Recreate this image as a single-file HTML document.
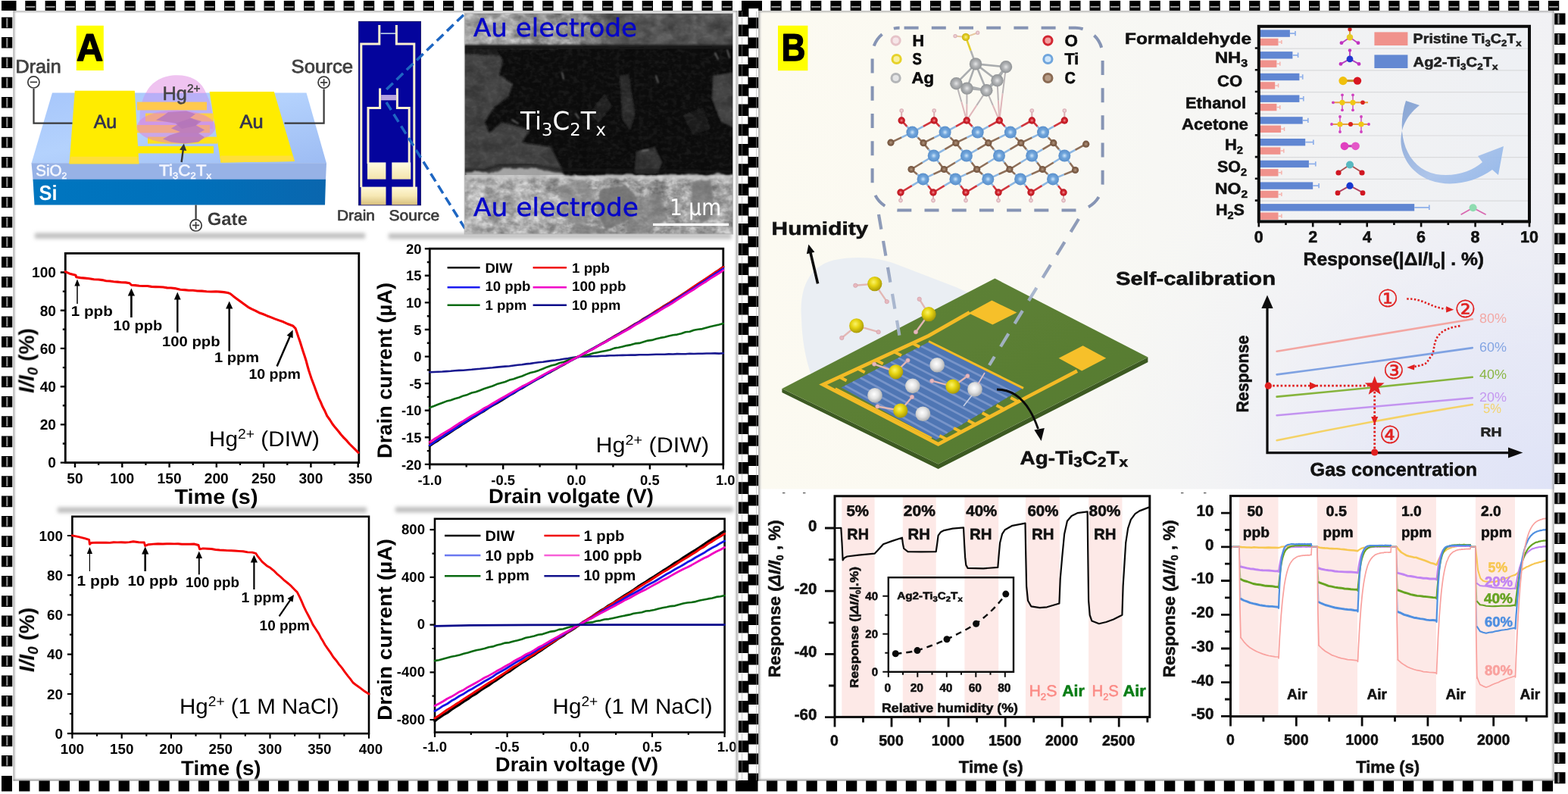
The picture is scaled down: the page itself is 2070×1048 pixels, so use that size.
<!DOCTYPE html>
<html lang="en">
<head>
<meta charset="utf-8">
<title>Ti3C2Tx MXene sensors - figure</title>
<style>
html,body{margin:0;padding:0;background:#fff;}
body{width:2070px;height:1048px;overflow:hidden;}
svg{display:block;}
</style>
</head>
<body>
<svg width="2070" height="1048" viewBox="0 0 2070 1048" font-family='"Liberation Sans", sans-serif' font-weight="bold" text-rendering="geometricPrecision">
<defs><linearGradient id="bgB" x1="0" y1="0" x2="1" y2="0"><stop offset="0" stop-color="#fcfaf1"/><stop offset=".3" stop-color="#faf9f2"/><stop offset=".5" stop-color="#f7f7f4"/><stop offset=".7" stop-color="#f5f5f5"/><stop offset="1" stop-color="#f1f1f4"/></linearGradient><radialGradient id="bgB2" cx="1" cy="1" r="1"><stop offset="0" stop-color="#dfe3f7"/><stop offset=".35" stop-color="#e3e6f7" stop-opacity=".75"/><stop offset=".7" stop-color="#e8eaf6" stop-opacity=".25"/><stop offset="1" stop-color="#eef0f6" stop-opacity="0"/></radialGradient><linearGradient id="edgeL" x1="0" y1="0" x2="1" y2="0"><stop offset="0" stop-color="#777"/><stop offset="1" stop-color="#fff" stop-opacity="0"/></linearGradient><linearGradient id="edgeR" x1="1" y1="0" x2="0" y2="0"><stop offset="0" stop-color="#777"/><stop offset="1" stop-color="#fff" stop-opacity="0"/></linearGradient><linearGradient id="edgeT" x1="0" y1="0" x2="0" y2="1"><stop offset="0" stop-color="#777"/><stop offset="1" stop-color="#fff" stop-opacity="0"/></linearGradient><linearGradient id="edgeB" x1="0" y1="1" x2="0" y2="0"><stop offset="0" stop-color="#666"/><stop offset="1" stop-color="#fff" stop-opacity="0"/></linearGradient></defs>
<rect x="17.5" y="14.5" width="956" height="1016" fill="#fff" />
<rect x="1001.5" y="14.5" width="1050" height="1016" fill="#fff" />
<rect x="1001.5" y="14.5" width="1050" height="631" fill="url(#bgB)" />
<rect x="1400" y="100" width="651.5" height="545.5" fill="url(#bgB2)" />
<g id="a_device">
<defs><linearGradient id="sio2top" x1="0" y1="0" x2="1" y2="1"><stop offset="0" stop-color="#a6c6fb"/><stop offset=".45" stop-color="#b4d2fd"/><stop offset="1" stop-color="#9dbcf3"/></linearGradient><linearGradient id="siface" x1="0" y1="0" x2="1" y2="0"><stop offset="0" stop-color="#0076c0"/><stop offset=".55" stop-color="#0070ba"/><stop offset="1" stop-color="#0a66ae"/></linearGradient><filter id="blur2" x="-5%" y="-200%" width="110%" height="500%"><feGaussianBlur stdDeviation="2.6"/></filter><filter id="blur1"><feGaussianBlur stdDeviation=".6"/></filter><clipPath id="domeclip"><rect x="170" y="90" width="130" height="33"/></clipPath></defs>
<rect x="100.8" y="33.8" width="36" height="59.2" fill="#ffff00" />
<text x="118.7" y="80.3" font-size="50.5" text-anchor="middle" textLength="35.2" lengthAdjust="spacingAndGlyphs" stroke="#000" stroke-width="1.5" stroke-linejoin="round">A</text>
<polygon points="69,122.6 404.5,122.6 431,215.5 41.5,215.5" fill="url(#sio2top)" />
<polygon points="41.5,215.2 431,215.2 430,237.2 43.5,237.2" fill="#97b2e6" />
<polygon points="43.5,236.8 430,236.8 429,270.6 45.5,270.6" fill="url(#siface)" />
<polygon points="98.8,119.8 177.8,119.8 183.4,216.2 91.5,216.2" fill="#ffec00" />
<polygon points="92.2,206.8 182.9,206.8 183.4,216.2 91.5,216.2" fill="#ffdf3a" />
<polygon points="276.6,121 361.8,121 389,213 291.5,214.5" fill="#ffec00" />
<polygon points="290.2,205.5 386.8,205.5 389,213 291.5,214.5" fill="#ffdf3a" />
<path d="M192.5 123 C200 107 216 99.3 234 99.3 C252 99.3 266 107 272 123Z" fill="#efc3f0"/>
<path d="M192.5 122.6 C186 134 183 150 185 170 L281 170 Q283.5 146 272 122.6Z" fill="#c58cf2" opacity=".45"/>
<rect x="181" y="134.6" width="92" height="10.8" fill="#ffc94e" />
<rect x="192" y="149.6" width="90" height="10.8" fill="#ffcf48" />
<rect x="181" y="165" width="96" height="10.4" fill="#ffd040" />
<rect x="195" y="180.6" width="92" height="9" fill="#ffe21c" />
<rect x="181" y="193" width="101" height="9.4" fill="#ffea00" />
<ellipse cx="232.6" cy="167.4" rx="51.6" ry="21.6" fill="#e27fd6" opacity=".5" stroke="#e07ad0" stroke-width="1" stroke-opacity=".6"/>
<polygon points="222,148 246,146.4 258,150.5 251,155.5 266,160 259,165.5 270,171.5 262,176 270,181 262,187.5 244,189.6 226,187.4 215,183.5 224,178.5 238,174 226,169.5 236,163.5 206,158.6 216,152.4" fill="#bb7cbf" opacity=".92"/>
<polygon points="232,163 252,156 262,160.5 258,166 240,170" fill="#b274b8" opacity=".7"/>
<text x="214.5" y="132" font-size="25.5" fill="#454545" font-weight="normal" textLength="50" lengthAdjust="spacingAndGlyphs" stroke="#454545" stroke-width=".5">Hg<tspan font-size="15.5" baseline-shift="10">2+</tspan></text>
<text x="139" y="169.4" font-size="25" fill="#33334e" font-weight="normal" text-anchor="middle" textLength="30.5" lengthAdjust="spacingAndGlyphs" stroke="#33334e" stroke-width=".7">Au</text>
<text x="332" y="169.4" font-size="25" fill="#33334e" font-weight="normal" text-anchor="middle" textLength="31" lengthAdjust="spacingAndGlyphs" stroke="#33334e" stroke-width=".7">Au</text>
<line x1="239.6" y1="214" x2="241.8" y2="197.4" stroke="#333" stroke-width="2.4" /><polygon points="242.8,189.5 246.2,199 237.1,197.8" fill="#333" />
<text x="210" y="232.4" font-size="21" fill="#f2f5ff" font-weight="normal" textLength="69" lengthAdjust="spacingAndGlyphs" stroke="#f2f5ff" stroke-width=".6">Ti<tspan font-size="12" baseline-shift="-3.5">3</tspan>C<tspan font-size="12" baseline-shift="-3.5">2</tspan>T<tspan font-size="12" baseline-shift="-3.5">x</tspan></text>
<text x="47.2" y="232" font-size="20.5" fill="#f4f7ff" font-weight="normal" textLength="41" lengthAdjust="spacingAndGlyphs" stroke="#f4f7ff" stroke-width=".5">SiO<tspan font-size="12" baseline-shift="-3.5">2</tspan></text>
<text x="51.5" y="264" font-size="27.5" fill="#fff" textLength="24" lengthAdjust="spacingAndGlyphs">Si</text>
<path d="M44.5 117V162.6H95.5M427.6 117.5V162.6H375.5M258.6 270.5V289" fill="none" stroke="#3a3a3a" stroke-width="2.2"/>
<circle cx="44.4" cy="108.4" r="7.6" fill="#fff" stroke="#3a3a3a" stroke-width="1.7"/>
<path d="M39.8 108.4h9.2" stroke="#3a3a3a" stroke-width="1.7" fill="none"/>
<circle cx="427.6" cy="108.8" r="7.6" fill="#fff" stroke="#3a3a3a" stroke-width="1.7"/>
<path d="M423.0 108.8h9.2M427.6 104.2v9.2" stroke="#3a3a3a" stroke-width="1.7" fill="none"/>
<circle cx="258.6" cy="297.4" r="7.6" fill="#fff" stroke="#3a3a3a" stroke-width="1.7"/>
<path d="M254.00000000000003 297.4h9.2M258.6 292.79999999999995v9.2" stroke="#3a3a3a" stroke-width="1.7" fill="none"/>
<text x="20.6" y="95.6" font-size="24.5" fill="#404040" font-weight="normal" textLength="60" lengthAdjust="spacingAndGlyphs" stroke="#404040" stroke-width=".8">Drain</text>
<text x="384.6" y="95.6" font-size="24.5" fill="#404040" font-weight="normal" textLength="81.5" lengthAdjust="spacingAndGlyphs" stroke="#404040" stroke-width=".8">Source</text>
<text x="273.8" y="296.8" font-size="23.5" fill="#3a3a3a" textLength="53" lengthAdjust="spacingAndGlyphs">Gate</text>
<rect x="46" y="307.6" width="436" height="7.2" fill="#bdbdbd" filter="url(#blur2)"/>
<rect x="513" y="308.1" width="453" height="7.2" fill="#bdbdbd" filter="url(#blur2)"/>
<rect x="76" y="669.6" width="408" height="7.2" fill="#bdbdbd" filter="url(#blur2)"/>
<rect x="522" y="669.1" width="446" height="7.2" fill="#bdbdbd" filter="url(#blur2)"/>
<defs><linearGradient id="padg" x1="0" y1="0" x2="0" y2="1"><stop offset="0" stop-color="#fff8d8"/><stop offset=".5" stop-color="#f6e8b4"/><stop offset="1" stop-color="#d8bf7c"/></linearGradient><linearGradient id="padg2" x1="0" y1="0" x2="0" y2="1"><stop offset="0" stop-color="#fffbe2"/><stop offset="1" stop-color="#f3e4ac"/></linearGradient></defs>
<rect x="473.6" y="28.4" width="81.8" height="242.4" fill="#04049c" stroke="#141466" stroke-width="1"/>
<path d="M476.8 247V58H500.8V33M523.4 33V58H546.8V247" fill="none" stroke="#fbf0cf" stroke-width="3" filter="url(#blur1)"/>
<path d="M486 216V142.4H501.6V116.6M524.4 116.6V142.4H540.2V216" fill="none" stroke="#fbf0cf" stroke-width="3" filter="url(#blur1)"/>
<path d="M502.6 44.2H522" stroke="#b9cfe6" stroke-width="1.7" fill="none"/>
<rect x="503.2" y="125.2" width="20" height="7.2" fill="#a08ad6" />
<path d="M503.2 126.6H523M503.2 129H523M503.2 131.2H523" stroke="#d9c6f0" stroke-width=".9" fill="none"/>
<rect x="485" y="214.4" width="24.4" height="22.2" fill="url(#padg2)" />
<rect x="517.3" y="214.4" width="25" height="22.2" fill="url(#padg2)" />
<rect x="476.5" y="246.6" width="33" height="23.8" fill="url(#padg)" />
<rect x="517.3" y="246.6" width="33.6" height="23.8" fill="url(#padg)" />
<text x="445" y="291" font-size="19.6" fill="#3c3c3c" font-weight="normal" textLength="50" lengthAdjust="spacingAndGlyphs" stroke="#3c3c3c" stroke-width=".7">Drain</text>
<text x="513.6" y="291" font-size="19.6" fill="#3c3c3c" font-weight="normal" textLength="66.6" lengthAdjust="spacingAndGlyphs" stroke="#3c3c3c" stroke-width=".7">Source</text>
<path d="M510.2 118L613.8 17.9M510 135L613.8 301.6" fill="none" stroke="#1e66c2" stroke-width="3.5" stroke-dasharray="12 6.5"/>
</g>
<g id="a_sem">
<defs><clipPath id="semclip"><rect x="613.2" y="17.4" width="354.4" height="291.6"/></clipPath><linearGradient id="semtop" x1="0" y1="0" x2="1" y2="0"><stop offset="0" stop-color="#acacac"/><stop offset=".25" stop-color="#9a9a9a"/><stop offset="0.44" stop-color="#8a8a8a"/><stop offset=".53" stop-color="#5e5e5e"/><stop offset="1" stop-color="#555"/></linearGradient><linearGradient id="sembot" x1="0" y1="0" x2="1" y2="0"><stop offset="0" stop-color="#b4b4b4"/><stop offset=".35" stop-color="#a6a6a6"/><stop offset=".55" stop-color="#8e8e8e"/><stop offset=".8" stop-color="#9c9c9c"/><stop offset="1" stop-color="#a4a4a4"/></linearGradient><linearGradient id="semfade" x1="0" y1="0" x2="1" y2="0"><stop offset="0" stop-color="#fff"/><stop offset=".42" stop-color="#fff"/><stop offset=".55" stop-color="#fff" stop-opacity=".2"/><stop offset="1" stop-color="#fff" stop-opacity=".2"/></linearGradient><filter id="grainA" x="0" y="0" width="100%" height="100%"><feTurbulence type="fractalNoise" baseFrequency=".09 .12" numOctaves="3" seed="7" result="n"/><feColorMatrix in="n" type="matrix" values="0 0 0 0 1  0 0 0 0 1  0 0 0 0 1  1.6 1.2 0 0 -1.15"/><feComposite in2="SourceGraphic" operator="in"/></filter><filter id="grainB" x="0" y="0" width="100%" height="100%"><feTurbulence type="fractalNoise" baseFrequency=".05 .07" numOctaves="3" seed="23" result="n"/><feColorMatrix in="n" type="matrix" values="0 0 0 0 0  0 0 0 0 0  0 0 0 0 0  1.8 1.4 0 0 -1.25"/><feComposite in2="SourceGraphic" operator="in"/></filter><filter id="grainC" x="0" y="0" width="100%" height="100%"><feTurbulence type="fractalNoise" baseFrequency=".16 .2" numOctaves="2" seed="3" result="n"/><feColorMatrix in="n" type="matrix" values="0 0 0 0 1  0 0 0 0 1  0 0 0 0 1  2.4 1.6 0 0 -1.7"/><feComposite in2="SourceGraphic" operator="in"/></filter><filter id="semblur"><feGaussianBlur stdDeviation="1.1"/></filter><filter id="rough" x="-5%" y="-50%" width="110%" height="200%"><feTurbulence type="fractalNoise" baseFrequency=".08" numOctaves="2" seed="5" result="t"/><feDisplacementMap in="SourceGraphic" in2="t" scale="9"/><feGaussianBlur stdDeviation=".8"/></filter></defs>
<g clip-path="url(#semclip)">
<rect x="613.2" y="17.4" width="354.4" height="44.6" fill="url(#semtop)" />
<rect x="613.2" y="61" width="354.4" height="171" fill="#454545" />
<rect x="613.2" y="231" width="354.4" height="78" fill="url(#sembot)" />
<rect x="613.2" y="17.4" width="354.4" height="43.6" fill="url(#semfade)" filter="url(#grainA)" opacity=".62"/>
<rect x="613.2" y="17.4" width="354.4" height="43.6" fill="#000" filter="url(#grainB)" opacity=".3"/>
<rect x="613.2" y="231" width="354.4" height="78" fill="#fff" filter="url(#grainA)" opacity=".5"/>
<rect x="613.2" y="231" width="354.4" height="78" fill="#fff" filter="url(#grainC)" opacity=".4"/>
<rect x="613.2" y="231" width="354.4" height="78" fill="#000" filter="url(#grainB)" opacity=".3"/>
<g filter="url(#semblur)">
<polygon points="792,250 826,244 842,262 830,290 800,304 788,280" fill="#707070" opacity="0.8"/>
<polygon points="842,262 872,254 880,290 850,309 826,309 830,290" fill="#7c7c7c" opacity="0.65"/>
<polygon points="914,240 938,236 944,280 926,296 912,270" fill="#747474" opacity="0.75"/>
<polygon points="736,246 770,236 786,262 770,300 744,288" fill="#8a8a8a" opacity="0.55"/>
<polygon points="760,294 800,304 830,309 750,309" fill="#787878" opacity="0.6"/>
<polygon points="613,59 968,59 968,84 930,90 880,86 700,80 664,74 613,71" fill="#1b1b1b" />
<polygon points="656,66 968,62 968,231 745,232 739,217 727,194 689,188 700,171 662,161 646,176 640,160 653,141 671,128 677,111 659,99 664,80" fill="#0f0f0f" />
<polygon points="818,100 830,98 838,150 832,172 822,158" fill="#2e2e2e" />
<polygon points="942,100 968,96 968,168 952,160 940,130" fill="#454545" />
<polygon points="840,200 864,194 874,214 868,228 838,228" fill="#363636" />
<polygon points="778,150 798,124 808,140 790,162" fill="#222" />
<polygon points="902,152 928,142 938,170 915,178" fill="#1f1f1f" />
</g>
<rect x="613.2" y="61" width="354.4" height="170" fill="#8a8a8a" filter="url(#grainC)" opacity=".05"/>
<rect x="613.2" y="61" width="354.4" height="170" fill="#000" filter="url(#grainB)" opacity=".2"/>
<path d="M676 158l8 5M742 96l2 8M760 150l4 6M866 100l3 9M848 199l8 -1M944 70l4 8M960 66l3 10" stroke="#c4c4c4" stroke-width="1.8" fill="none" stroke-linecap="round" filter="url(#semblur)" opacity=".5"/>
<path d="M613.2 61.5 L700 62 L760 62.5 L830 64 L900 63 L967.6 62.5" stroke="#141414" stroke-width="4" fill="none" filter="url(#semblur)"/>
<path d="M613.2 225 L640 224 L660 218 L700 217 L740 224 L967.6 227" stroke="#1a1a1a" stroke-width="4" fill="none" filter="url(#semblur)" opacity=".6"/>
<path d="M613.2 227 L632 226 L646 230 L660 224 L676 221 L700 221 L724 226 L744 230 L762 232 L762 236 L613.2 236Z" fill="#cdcdcd" filter="url(#rough)" opacity=".7"/>
<path d="M758 231.5 L800 230 L840 231.5 L880 229.5 L930 231 L967.6 229 L967.6 236.5 L758 236.5Z" fill="#d2d2d2" filter="url(#rough)" opacity=".72"/>
</g>
<rect x="613.2" y="17.4" width="354.4" height="291.6" fill="none" stroke="#b5b5b5" stroke-width="1"/>
<text x="625" y="48.4" font-size="33" fill="#0606c8" font-weight="normal" textLength="216" lengthAdjust="spacingAndGlyphs" font-family='"DejaVu Sans", "Liberation Sans", sans-serif' stroke="#0606c8" stroke-width=".5">Au electrode</text>
<text x="625" y="285" font-size="33" fill="#0606c8" font-weight="normal" textLength="218" lengthAdjust="spacingAndGlyphs" font-family='"DejaVu Sans", "Liberation Sans", sans-serif' stroke="#0606c8" stroke-width=".5">Au electrode</text>
<text x="687" y="171" font-size="33" fill="#fff" font-weight="normal" textLength="113" lengthAdjust="spacingAndGlyphs" font-family='"DejaVu Sans", "Liberation Sans", sans-serif'>Ti<tspan font-size="23" baseline-shift="-8">3</tspan>C<tspan font-size="23" baseline-shift="-8">2</tspan>T<tspan font-size="23" baseline-shift="-8">x</tspan></text>
<text x="884" y="283.6" font-size="30" fill="#fff" font-weight="normal" textLength="68" lengthAdjust="spacingAndGlyphs" font-family='"DejaVu Sans", "Liberation Sans", sans-serif'>1 µm</text>
<rect x="862" y="294.8" width="100" height="3.2" fill="#fff" />
</g>
<g id="a_charts">
<rect x="86.3" y="334.4" width="387.5" height="276.2" fill="#fff" stroke="#000" stroke-width="2.8"/>
<path d="M86.3 610.6h-6.5M86.3 560.4h-6.5M86.3 510.2h-6.5M86.3 459.9h-6.5M86.3 409.7h-6.5M86.3 359.5h-6.5" stroke="#000" stroke-width="2.4" fill="none"/>
<path d="M86.3 585.5h-3.5M86.3 535.3h-3.5M86.3 485.1h-3.5M86.3 434.8h-3.5M86.3 384.6h-3.5" stroke="#000" stroke-width="2.4" fill="none"/>
<path d="M99 610.6v6.5M161.3 610.6v6.5M223.6 610.6v6.5M285.8 610.6v6.5M348.1 610.6v6.5M410.4 610.6v6.5M472.7 610.6v6.5" stroke="#000" stroke-width="2.4" fill="none"/>
<path d="M130.1 610.6v3.5M192.4 610.6v3.5M254.7 610.6v3.5M317 610.6v3.5M379.3 610.6v3.5M441.5 610.6v3.5" stroke="#000" stroke-width="2.4" fill="none"/>
<text x="74" y="617.4" font-size="19.2" text-anchor="end">0</text>
<text x="74" y="567.2" font-size="19.2" text-anchor="end">20</text>
<text x="74" y="517" font-size="19.2" text-anchor="end">40</text>
<text x="74" y="466.7" font-size="19.2" text-anchor="end">60</text>
<text x="74" y="416.5" font-size="19.2" text-anchor="end">80</text>
<text x="74" y="366.3" font-size="19.2" text-anchor="end">100</text>
<text x="99" y="637.8" font-size="19.2" text-anchor="middle">50</text>
<text x="161.3" y="637.8" font-size="19.2" text-anchor="middle">100</text>
<text x="223.6" y="637.8" font-size="19.2" text-anchor="middle">150</text>
<text x="285.8" y="637.8" font-size="19.2" text-anchor="middle">200</text>
<text x="348.1" y="637.8" font-size="19.2" text-anchor="middle">250</text>
<text x="410.4" y="637.8" font-size="19.2" text-anchor="middle">300</text>
<text x="475.7" y="637.8" font-size="19.2" text-anchor="middle">350</text>
<text x="285.5" y="664.6" font-size="27.5" text-anchor="middle" textLength="110" lengthAdjust="spacingAndGlyphs">Time (s)</text>
<text x="44.6" y="476" font-size="28.2" text-anchor="middle" transform="rotate(-90 44.6 476)"><tspan font-style="italic">I/I<tspan font-size="19" baseline-shift="-5">0</tspan></tspan> (%)</text>
<text x="276" y="588.8" font-size="28.5" font-weight="normal" textLength="146" lengthAdjust="spacingAndGlyphs">Hg<tspan font-size="18.5" baseline-shift="10.5">2+</tspan> (DIW)</text>
<polyline points="86.3,358.6 93,361.6 100,363.3 100.6,365.7 106.3,366.6 112,367.1 118,367.7 124,368.8 130,369 135,369.6 140,370.7 145,371 150,371.8 155.2,372.1 160.5,372.7 165.8,372.9 171,373.7 173.5,376.3 178.6,376.6 183.9,377.2 189.3,377.5 194.7,377.5 200,378.4 205.1,378.6 210.2,378.8 215.3,379 220.5,379.9 225.6,380 230.7,380.6 238,382.3 243.6,382.6 249.2,383.2 254.9,383.3 260.5,384 266.6,384.1 272.8,384.7 278.9,385 285,384.7 290.3,385.1 295.7,385.6 301,386.5 304,387.6 308,390.9 312,393.9 317.2,397.8 322.3,401.5 327.5,405.3 332.3,407.8 337.2,410.1 342,412.7 347.1,414.5 352.2,416.7 357.3,418.6 362.9,420.9 368.4,422.9 374,424.8 380.5,427.8 387,430.3 390,433.3 392,439 394,445.1 396.1,451 398.2,457.7 400.1,463.7 402.1,469.7 404,475.7 405.8,482.5 407.6,488.8 409.4,494.4 411.3,500 413.1,504.8 415,509.8 416.8,514.7 418.7,519.9 420.5,524.8 423.2,530.4 426,537.1 428.9,542.5 431.7,548.9 435.4,554 439,559.8 442.8,564.6 446.6,569 450.3,573.8 454,577.9 457.8,581.7 461.5,586 468,592.3 473,597.3" fill="none" stroke="#f40000" stroke-width="3.1" stroke-linejoin="round" stroke-linecap="round" />
<line x1="102" y1="401" x2="102" y2="376.6" stroke="#000" stroke-width="1.5" /><polygon points="102,368.6 98.4,377.6 105.6,377.6" fill="#000" />
<line x1="173.4" y1="419" x2="173.4" y2="389.6" stroke="#000" stroke-width="2.6" /><polygon points="173.4,380.6 168.8,390.6 178,390.6" fill="#000" />
<line x1="234.3" y1="438.8" x2="234.3" y2="394.6" stroke="#000" stroke-width="2.4" /><polygon points="234.3,385.6 229.9,395.6 238.7,395.6" fill="#000" />
<line x1="302.7" y1="463.6" x2="302.7" y2="406.6" stroke="#000" stroke-width="2.5" /><polygon points="302.7,397.6 298.1,407.6 307.3,407.6" fill="#000" />
<line x1="365.6" y1="483.4" x2="383" y2="443.6" stroke="#000" stroke-width="2.5" /><polygon points="386.6,435.4 386.6,446.3 378.6,442.8" fill="#000" />
<text x="93.8" y="417.2" font-size="18.6" textLength="55" lengthAdjust="spacingAndGlyphs">1 ppb</text>
<text x="149.6" y="436" font-size="18.6" textLength="64.6" lengthAdjust="spacingAndGlyphs">10 ppb</text>
<text x="214" y="456.6" font-size="18.6" textLength="76.6" lengthAdjust="spacingAndGlyphs">100 ppb</text>
<text x="283" y="478.2" font-size="18.6" textLength="59" lengthAdjust="spacingAndGlyphs">1 ppm</text>
<text x="328.4" y="500.2" font-size="18.6" textLength="68.6" lengthAdjust="spacingAndGlyphs">10 ppm</text>
<rect x="567.3" y="328.2" width="387.5" height="284.7" fill="#fff" stroke="#000" stroke-width="2.8"/>
<path d="M567.3 328.2h-6.5M567.3 363.8h-6.5M567.3 399.4h-6.5M567.3 435h-6.5M567.3 470.6h-6.5M567.3 506.1h-6.5M567.3 541.7h-6.5M567.3 577.3h-6.5M567.3 612.9h-6.5" stroke="#000" stroke-width="2.4" fill="none"/>
<path d="M567.3 346h-3.5M567.3 381.6h-3.5M567.3 417.2h-3.5M567.3 452.8h-3.5M567.3 488.4h-3.5M567.3 523.9h-3.5M567.3 559.5h-3.5M567.3 595.1h-3.5" stroke="#000" stroke-width="2.4" fill="none"/>
<path d="M567.3 612.9v6.5M664.2 612.9v6.5M761 612.9v6.5M857.9 612.9v6.5M954.8 612.9v6.5" stroke="#000" stroke-width="2.4" fill="none"/>
<path d="M615.7 612.9v3.5M712.6 612.9v3.5M809.4 612.9v3.5M906.3 612.9v3.5" stroke="#000" stroke-width="2.4" fill="none"/>
<text x="556.5" y="334.8" font-size="18.4" text-anchor="end">20</text>
<text x="556.5" y="370.4" font-size="18.4" text-anchor="end">15</text>
<text x="556.5" y="406" font-size="18.4" text-anchor="end">10</text>
<text x="556.5" y="441.6" font-size="18.4" text-anchor="end">5</text>
<text x="556.5" y="477.2" font-size="18.4" text-anchor="end">0</text>
<text x="556.5" y="512.8" font-size="18.4" text-anchor="end">-5</text>
<text x="556.5" y="548.3" font-size="18.4" text-anchor="end">-10</text>
<text x="556.5" y="583.9" font-size="18.4" text-anchor="end">-15</text>
<text x="556.5" y="619.5" font-size="18.4" text-anchor="end">-20</text>
<text x="567.3" y="639.6" font-size="18.4" text-anchor="middle">-1.0</text>
<text x="664.2" y="639.6" font-size="18.4" text-anchor="middle">-0.5</text>
<text x="761" y="639.6" font-size="18.4" text-anchor="middle">0.0</text>
<text x="857.9" y="639.6" font-size="18.4" text-anchor="middle">0.5</text>
<text x="957.8" y="639.6" font-size="18.4" text-anchor="middle">1.0</text>
<text x="754" y="664" font-size="27" text-anchor="middle" textLength="218" lengthAdjust="spacingAndGlyphs">Drain volgate (V)</text>
<text x="516.5" y="489" font-size="27" text-anchor="middle" textLength="232" lengthAdjust="spacingAndGlyphs" transform="rotate(-90 516.5 489)">Drain current (µA)</text>
<text x="786.6" y="597.4" font-size="28.5" font-weight="normal" textLength="149.5" lengthAdjust="spacingAndGlyphs">Hg<tspan font-size="18.5" baseline-shift="10.5">2+</tspan> (DIW)</text>
<polyline points="567.3,491.2 572.8,491 578.4,490.7 583.9,490.5 589.4,490.1 595,489.8 600.5,489.2 606,488.9 611.6,488.7 617.1,488.2 622.7,487.8 628.2,487.2 633.7,486.8 639.3,486.2 644.8,485.8 650.3,485.3 655.9,484.6 661.4,484.1 666.9,483.6 672.5,483.2 678,482.5 683.5,481.7 689.1,481.3 694.6,480.4 700.2,479.9 705.7,479 711.2,478.3 716.8,477.8 722.3,476.9 727.8,476.1 733.4,475.5 738.9,474.7 744.4,473.7 750,473.1 755.5,472.1 761,471.2 766.6,470.6 772.1,470.6 777.7,470.4 783.2,470.3 788.7,470.1 794.3,469.7 799.8,469.6 805.3,469.3 810.9,469.2 816.4,469 821.9,468.9 827.5,468.8 833,468.5 838.5,468.6 844.1,468.3 849.6,468.2 855.2,468.2 860.7,468 866.2,467.8 871.8,467.7 877.3,467.7 882.8,467.4 888.4,467.5 893.9,467.1 899.4,467.3 905,467.2 910.5,466.8 916,467 921.6,466.8 927.1,466.8 932.7,466.5 938.2,466.5 943.7,466.4 949.3,466.6 954.8,466.3" fill="none" stroke="#1a1a90" stroke-width="2.6" stroke-linejoin="round" stroke-linecap="round" />
<polyline points="567.3,537.9 572.8,536 578.4,533.8 583.9,531.7 589.4,529.6 595,528.3 600.5,526.3 606,524.7 611.6,522.4 617.1,520.9 622.7,518.5 628.2,517.2 633.7,515.2 639.3,513 644.8,511.3 650.3,509.5 655.9,507.1 661.4,505.6 666.9,504 672.5,501.6 678,500.2 683.5,498.2 689.1,496.5 694.6,494.1 700.2,492 705.7,490.8 711.2,488.9 716.8,486.7 722.3,484.4 727.8,482.6 733.4,481.2 738.9,479 744.4,477.7 750,475.5 755.5,473.2 761,471.8 766.6,470 772.1,469.3 777.7,468 783.2,466.3 788.7,465.2 794.3,464 799.8,462.9 805.3,461.8 810.9,459.6 816.4,458.7 821.9,457.6 827.5,456.1 833,455.1 838.5,453.4 844.1,452.9 849.6,451.3 855.2,449.6 860.7,448.9 866.2,447.3 871.8,445.9 877.3,445 882.8,443.4 888.4,442.2 893.9,441.6 899.4,440.2 905,438.2 910.5,437.7 916,435.7 921.6,434.8 927.1,434.1 932.7,432.5 938.2,431 943.7,429.8 949.3,428.5 954.8,427" fill="none" stroke="#0a6a12" stroke-width="2.6" stroke-linejoin="round" stroke-linecap="round" />
<polyline points="567.3,588.5 572.8,584.7 578.4,581.3 583.9,577.3 589.4,573.9 595,570.2 600.5,566.4 606,563.1 611.6,559.3 617.1,556 622.7,552.2 628.2,548.8 633.7,545.5 639.3,542.3 644.8,538.5 650.3,535.1 655.9,532 661.4,528.8 666.9,525.3 672.5,521.9 678,518.9 683.5,515.1 689.1,512.4 694.6,508.8 700.2,505.5 705.7,502.3 711.2,499.3 716.8,496.5 722.3,493 727.8,490.2 733.4,487.1 738.9,483.9 744.4,481 750,477.7 755.5,474.8 761,471.9 766.6,469.2 772.1,466 777.7,462.9 783.2,460 788.7,456.8 794.3,453.6 799.8,450.7 805.3,447.5 810.9,444 816.4,441 821.9,437.7 827.5,434.7 833,431.3 838.5,427.7 844.1,424.8 849.6,420.9 855.2,417.7 860.7,414.4 866.2,410.6 871.8,407.4 877.3,403.6 882.8,400.5 888.4,397 893.9,393.3 899.4,389.9 905,386 910.5,382.6 916,378.9 921.6,375.2 927.1,371.4 932.7,367.9 938.2,364.3 943.7,360.2 949.3,356.5 954.8,352.3" fill="none" stroke="#000" stroke-width="3.2" stroke-linejoin="round" stroke-linecap="round" />
<polyline points="567.3,586.4 572.8,583.2 578.4,579.1 583.9,575.8 589.4,571.9 595,568.4 600.5,565.3 606,561.4 611.6,558.1 617.1,554.5 622.7,551.1 628.2,547.7 633.7,544.1 639.3,541.1 644.8,537.3 650.3,534 655.9,530.6 661.4,527.4 666.9,524.3 672.5,521.3 678,517.8 683.5,514.4 689.1,511.3 694.6,508.6 700.2,504.9 705.7,502.1 711.2,498.9 716.8,496 722.3,492.7 727.8,489.9 733.4,486.8 738.9,483.9 744.4,481.1 750,477.9 755.5,474.8 761,471.8 766.6,469.4 772.1,466.1 777.7,462.8 783.2,460.2 788.7,456.8 794.3,453.8 799.8,450.7 805.3,447.1 810.9,444 816.4,441 821.9,437.3 827.5,434.4 833,430.7 838.5,427.7 844.1,424.4 849.6,421.1 855.2,417.6 860.7,414 866.2,410.4 871.8,406.9 877.3,403.6 882.8,400 888.4,396.2 893.9,393.2 899.4,389.3 905,385.8 910.5,381.9 916,378.2 921.6,374.4 927.1,370.9 932.7,367.1 938.2,363.4 943.7,359.6 949.3,356 954.8,352.2" fill="none" stroke="#f00000" stroke-width="2.6" stroke-linejoin="round" stroke-linecap="round" />
<polyline points="567.3,587.6 572.8,583.8 578.4,580 583.9,576.8 589.4,572.7 595,569.4 600.5,566.1 606,562.1 611.6,558.8 617.1,555.4 622.7,551.5 628.2,548.3 633.7,545 639.3,541.5 644.8,538.2 650.3,534.5 655.9,531.2 661.4,527.8 666.9,524.8 672.5,521.8 678,518.3 683.5,515.2 689.1,511.7 694.6,508.8 700.2,505.2 705.7,502.2 711.2,499.3 716.8,496.2 722.3,493 727.8,489.7 733.4,486.8 738.9,483.7 744.4,480.8 750,478.1 755.5,474.8 761,472.3 766.6,469.4 772.1,465.9 777.7,463.1 783.2,460.1 788.7,456.8 794.3,453.9 799.8,451.1 805.3,447.5 810.9,444.6 816.4,441.2 821.9,438.3 827.5,435.2 833,431.6 838.5,428.2 844.1,424.9 849.6,421.9 855.2,418.2 860.7,414.9 866.2,411.8 871.8,408.6 877.3,404.9 882.8,401.4 888.4,398.1 893.9,394.2 899.4,391 905,387.2 910.5,383.9 916,380.5 921.6,376.3 927.1,373 932.7,369.4 938.2,365.4 943.7,361.8 949.3,358.5 954.8,354.7" fill="none" stroke="#1414e6" stroke-width="2.8" stroke-linejoin="round" stroke-linecap="round" />
<polyline points="567.3,583.4 572.8,579.8 578.4,576.4 583.9,572.6 589.4,569.5 595,566.1 600.5,562.5 606,558.8 611.6,555.6 617.1,552.1 622.7,548.7 628.2,545.8 633.7,542.5 639.3,538.7 644.8,535.9 650.3,532.5 655.9,529.2 661.4,525.9 666.9,522.9 672.5,519.7 678,516.6 683.5,513.5 689.1,510.1 694.6,507.4 700.2,504.5 705.7,501.4 711.2,498.2 716.8,494.9 722.3,491.9 727.8,489 733.4,486.6 738.9,483.3 744.4,480.5 750,477.9 755.5,474.7 761,472.1 766.6,469.1 772.1,466 777.7,463.3 783.2,460.5 788.7,457.1 794.3,454.1 799.8,451.2 805.3,447.9 810.9,445.1 816.4,442.1 821.9,438.9 827.5,435.7 833,432.7 838.5,429.1 844.1,426.1 849.6,422.7 855.2,419.6 860.7,416 866.2,413 871.8,409.3 877.3,406 882.8,403 888.4,399.6 893.9,395.9 899.4,392.4 905,388.8 910.5,385.3 916,382 921.6,378.2 927.1,374.6 932.7,371.2 938.2,367.4 943.7,364 949.3,360.5 954.8,356.8" fill="none" stroke="#f000c0" stroke-width="2.8" stroke-linejoin="round" stroke-linecap="round" />
<line x1="590.6" y1="353.2" x2="633.6" y2="353.2" stroke="#000" stroke-width="2.6" />
<text x="640.4" y="359.6" font-size="18.2" textLength="36" lengthAdjust="spacingAndGlyphs">DIW</text>
<line x1="590.6" y1="379.2" x2="633.6" y2="379.2" stroke="#1a1af0" stroke-width="2.6" />
<text x="640.4" y="384" font-size="18.2" textLength="60" lengthAdjust="spacingAndGlyphs">10 ppb</text>
<line x1="590.6" y1="402.8" x2="633.6" y2="402.8" stroke="#0a6a12" stroke-width="2.6" />
<text x="640.4" y="409.2" font-size="18.2" textLength="55" lengthAdjust="spacingAndGlyphs">1 ppm</text>
<line x1="703.6" y1="353.2" x2="748" y2="353.2" stroke="#f00000" stroke-width="2.6" />
<text x="755" y="359.6" font-size="18.2" textLength="50" lengthAdjust="spacingAndGlyphs">1 ppb</text>
<line x1="703.6" y1="379.2" x2="748" y2="379.2" stroke="#f000c8" stroke-width="2.6" />
<text x="755" y="384" font-size="18.2" textLength="71.5" lengthAdjust="spacingAndGlyphs">100 ppb</text>
<line x1="703.6" y1="402.8" x2="748" y2="402.8" stroke="#0a0a8a" stroke-width="2.6" />
<text x="755" y="409.2" font-size="18.2" textLength="64.5" lengthAdjust="spacingAndGlyphs">10 ppm</text>
<rect x="95.4" y="681.8" width="391.6" height="286.4" fill="#fff" stroke="#000" stroke-width="2.6"/>
<path d="M95.4 968.2h-6.5M95.4 916h-6.5M95.4 863.7h-6.5M95.4 811.5h-6.5M95.4 759.2h-6.5M95.4 707h-6.5" stroke="#000" stroke-width="2.2" fill="none"/>
<path d="M95.4 942.1h-3.5M95.4 889.9h-3.5M95.4 837.6h-3.5M95.4 785.4h-3.5M95.4 733.1h-3.5" stroke="#000" stroke-width="2.2" fill="none"/>
<path d="M95.4 968.2v6.5M160.7 968.2v6.5M225.9 968.2v6.5M291.2 968.2v6.5M356.5 968.2v6.5M421.8 968.2v6.5M487 968.2v6.5" stroke="#000" stroke-width="2.2" fill="none"/>
<path d="M128 968.2v3.5M193.3 968.2v3.5M258.5 968.2v3.5M323.8 968.2v3.5M389.1 968.2v3.5M454.4 968.2v3.5" stroke="#000" stroke-width="2.2" fill="none"/>
<text x="83" y="974.8" font-size="18.8" text-anchor="end" textLength="10.5" lengthAdjust="spacingAndGlyphs">0</text>
<text x="83" y="922.6" font-size="18.8" text-anchor="end" textLength="21" lengthAdjust="spacingAndGlyphs">20</text>
<text x="83" y="870.3" font-size="18.8" text-anchor="end" textLength="21" lengthAdjust="spacingAndGlyphs">40</text>
<text x="83" y="818.1" font-size="18.8" text-anchor="end" textLength="21" lengthAdjust="spacingAndGlyphs">60</text>
<text x="83" y="765.8" font-size="18.8" text-anchor="end" textLength="21" lengthAdjust="spacingAndGlyphs">80</text>
<text x="83" y="713.6" font-size="18.8" text-anchor="end" textLength="31.5" lengthAdjust="spacingAndGlyphs">100</text>
<text x="95.4" y="995.2" font-size="18.8" text-anchor="middle">100</text>
<text x="160.7" y="995.2" font-size="18.8" text-anchor="middle">150</text>
<text x="225.9" y="995.2" font-size="18.8" text-anchor="middle">200</text>
<text x="291.2" y="995.2" font-size="18.8" text-anchor="middle">250</text>
<text x="356.5" y="995.2" font-size="18.8" text-anchor="middle">300</text>
<text x="421.8" y="995.2" font-size="18.8" text-anchor="middle">350</text>
<text x="489.5" y="995.2" font-size="18.8" text-anchor="middle">400</text>
<text x="291.8" y="1022.6" font-size="27" text-anchor="middle" textLength="105.5" lengthAdjust="spacingAndGlyphs">Time (s)</text>
<text x="44.6" y="844.6" font-size="28" text-anchor="middle" transform="rotate(-90 44.6 844.6)"><tspan font-style="italic">I/I<tspan font-size="19" baseline-shift="-5">0</tspan></tspan> (%)</text>
<text x="237" y="942" font-size="28.5" font-weight="normal" textLength="210.5" lengthAdjust="spacingAndGlyphs">Hg<tspan font-size="18.5" baseline-shift="10.5">2+</tspan> (1 M NaCl)</text>
<polyline points="95.4,706.8 104,708.6 112,710.7 117.6,712.4 118.4,718.4 120.4,716.5 126.9,716.1 133.5,716.3 140,716.3 145,716.4 150,715.8 155,715.9 160,715.7 165.3,716 170.7,715.6 176,714.8 183.2,715.8 190.4,716 191.6,720.5 196,718.7 202.3,718.1 208.7,717.8 215,718 220,717.7 225,717.8 230,717.9 235,717.8 240,718.2 245.3,718.1 250.7,718.3 256,718 262,719.5 263.6,724.8 268,723.9 273.5,724.2 279,724.5 284.5,725.5 290,726 295,726.3 300,726.6 305,726.7 310,727 315,727.4 321,727.8 327,728.9 333,729.1 337.6,730.3 340,733.9 346,741.4 353,747.3 357,749.6 361,752.8 365.5,757.3 370,761 375.5,766.2 381,770.5 384.8,773.9 388.7,778 392.5,781.8 396,788.8 398.5,794.4 401,800.4 404,806.6 407,812.2 410,818 413,824.4 417,830.5 421,836.6 423.7,841.9 426.3,846.1 429,851 432.7,856.3 436.3,861.4 440,867.2 443.8,871.7 447.7,877.1 451.5,881.7 455.2,886.9 459,891.8 462.5,896.1 466,901 471,904.8 476,908.4 481.5,912.6 487,916" fill="none" stroke="#f40000" stroke-width="2.9" stroke-linejoin="round" stroke-linecap="round" />
<line x1="118.4" y1="754" x2="118.4" y2="730" stroke="#000" stroke-width="1.2" /><polygon points="118.4,722 114.8,731 122,731" fill="#000" />
<line x1="191.7" y1="754" x2="191.7" y2="730.6" stroke="#000" stroke-width="2.6" /><polygon points="191.7,721.6 187.1,731.6 196.3,731.6" fill="#000" />
<line x1="262.8" y1="758.4" x2="262.8" y2="735.9" stroke="#000" stroke-width="1.9" /><polygon points="262.8,727.4 258.6,736.9 267,736.9" fill="#000" />
<line x1="335.4" y1="778" x2="335.4" y2="741.4" stroke="#000" stroke-width="2.2" /><polygon points="335.4,732.4 330.8,742.4 340,742.4" fill="#000" />
<line x1="368.6" y1="813.4" x2="383.5" y2="791.6" stroke="#000" stroke-width="2.2" /><polygon points="388,785 386.4,794.8 379.5,790.1" fill="#000" />
<text x="101.6" y="773.2" font-size="19" textLength="56" lengthAdjust="spacingAndGlyphs">1 ppb</text>
<text x="168.4" y="773.2" font-size="19" textLength="66.4" lengthAdjust="spacingAndGlyphs">10 ppb</text>
<text x="245" y="775" font-size="19" textLength="71" lengthAdjust="spacingAndGlyphs" font-weight="bold">100 ppb</text>
<text x="318.6" y="794.6" font-size="19" textLength="57" lengthAdjust="spacingAndGlyphs">1 ppm</text>
<text x="342.6" y="832.4" font-size="19" textLength="66.4" lengthAdjust="spacingAndGlyphs">10 ppm</text>
<rect x="574" y="684.8" width="382.6" height="281.8" fill="#fff" stroke="#000" stroke-width="2.6"/>
<path d="M574 699.2h-6.5M574 761.9h-6.5M574 824.6h-6.5M574 887.3h-6.5M574 950h-6.5" stroke="#000" stroke-width="2.2" fill="none"/>
<path d="M574 730.6h-3.5M574 793.3h-3.5M574 856h-3.5M574 918.7h-3.5" stroke="#000" stroke-width="2.2" fill="none"/>
<path d="M574 966.6v6.5M669.6 966.6v6.5M765.3 966.6v6.5M861 966.6v6.5M956.6 966.6v6.5" stroke="#000" stroke-width="2.2" fill="none"/>
<path d="M621.8 966.6v3.5M717.4 966.6v3.5M813.1 966.6v3.5M908.8 966.6v3.5" stroke="#000" stroke-width="2.2" fill="none"/>
<text x="561" y="704.8" font-size="18.6" text-anchor="end">800</text>
<text x="561" y="767.5" font-size="18.6" text-anchor="end">400</text>
<text x="561" y="830.2" font-size="18.6" text-anchor="end">0</text>
<text x="561" y="892.9" font-size="18.6" text-anchor="end">-400</text>
<text x="561" y="955.6" font-size="18.6" text-anchor="end">-800</text>
<text x="574" y="992" font-size="18.6" text-anchor="middle">-1.0</text>
<text x="669.6" y="992" font-size="18.6" text-anchor="middle">-0.5</text>
<text x="765.3" y="992" font-size="18.6" text-anchor="middle">0.0</text>
<text x="861" y="992" font-size="18.6" text-anchor="middle">0.5</text>
<text x="959.6" y="992" font-size="18.6" text-anchor="middle">1.0</text>
<text x="761.6" y="1017.6" font-size="26.5" text-anchor="middle" textLength="215" lengthAdjust="spacingAndGlyphs">Drain voltage (V)</text>
<text x="517" y="831" font-size="26.5" text-anchor="middle" textLength="240" lengthAdjust="spacingAndGlyphs" transform="rotate(-90 517 831)">Drain current (µA)</text>
<text x="729.6" y="942" font-size="28.5" font-weight="normal" textLength="211" lengthAdjust="spacingAndGlyphs">Hg<tspan font-size="18.5" baseline-shift="10.5">2+</tspan> (1 M NaCl)</text>
<polyline points="574,872.1 579.5,871.2 584.9,869.8 590.4,868.3 595.9,866.7 601.3,865.8 606.8,864.4 612.3,862.8 617.7,861.4 623.2,859.8 628.7,858.2 634.1,857.2 639.6,856 645.1,854.2 650.5,853.4 656,851.6 661.5,850.2 666.9,848.6 672.4,848.1 677.8,846.5 683.3,845.3 688.8,843.7 694.2,841.8 699.7,840.7 705.2,839.4 710.6,837.7 716.1,837.1 721.6,835.2 727,833.6 732.5,832.9 738,830.9 743.4,830.2 748.9,828.4 754.4,827.1 759.8,825.6 765.3,824.3 770.8,823 776.2,821.7 781.7,821.4 787.2,819.7 792.6,819.1 798.1,817.5 803.6,817.1 809,815.9 814.5,814.7 820,813.6 825.4,812.4 830.9,811.4 836.4,809.8 841.8,809 847.3,808.2 852.8,806.5 858.2,806.1 863.7,805 869.1,803.4 874.6,802.3 880.1,801.3 885.5,800.1 891,799.6 896.5,797.9 901.9,796.5 907.4,795.5 912.9,795 918.3,794.1 923.8,792.6 929.3,791.5 934.7,790.4 940.2,789.5 945.7,787.9 951.1,787.2 956.6,786.1" fill="none" stroke="#0a6a12" stroke-width="2.6" stroke-linejoin="round" stroke-linecap="round" />
<polyline points="574,951.7 579.5,947.5 584.9,943.8 590.4,940.8 595.9,936.6 601.3,933 606.8,929.7 612.3,925.9 617.7,922.6 623.2,918.5 628.7,915.4 634.1,911.3 639.6,907.9 645.1,904.5 650.5,900.6 656,897.2 661.5,893.4 666.9,889.3 672.4,886.3 677.8,882.4 683.3,878.6 688.8,874.9 694.2,871.7 699.7,867.9 705.2,864.5 710.6,860.7 716.1,857.2 721.6,853.3 727,849.8 732.5,846.1 738,842.2 743.4,839.1 748.9,835 754.4,831.7 759.8,828.2 765.3,824.3 770.8,820.4 776.2,817.4 781.7,813.8 787.2,809.9 792.6,806.3 798.1,803.1 803.6,799.2 809,796.3 814.5,792.5 820,789 825.4,785.4 830.9,782.1 836.4,778.7 841.8,774.8 847.3,771.3 852.8,767.9 858.2,764.2 863.7,760.9 869.1,757.4 874.6,753.8 880.1,750.4 885.5,746.8 891,743 896.5,740.1 901.9,736.1 907.4,732.6 912.9,729.1 918.3,725.9 923.8,722.4 929.3,718.6 934.7,715 940.2,711.3 945.7,708.3 951.1,704.3 956.6,701" fill="none" stroke="#000" stroke-width="3.4" stroke-linejoin="round" stroke-linecap="round" />
<polyline points="574,947.9 579.5,944.4 584.9,940.8 590.4,936.7 595.9,933.6 601.3,929.9 606.8,926.5 612.3,922.7 617.7,919.2 623.2,915.8 628.7,912.1 634.1,908.8 639.6,905 645.1,901.5 650.5,898.4 656,894.7 661.5,891.2 666.9,887.8 672.4,884 677.8,880.3 683.3,877.3 688.8,873.6 694.2,870.1 699.7,866.6 705.2,863.3 710.6,859.4 716.1,856.1 721.6,852.3 727,848.9 732.5,845.5 738,841.7 743.4,838 748.9,834.8 754.4,831.4 759.8,827.8 765.3,824.2 770.8,820.9 776.2,817.1 781.7,813.7 787.2,810.4 792.6,807.3 798.1,803.5 803.6,800 809,796.5 814.5,793.1 820,789.8 825.4,786.6 830.9,783.4 836.4,779.6 841.8,776.2 847.3,772.7 852.8,769.3 858.2,766.2 863.7,762.6 869.1,759 874.6,755.5 880.1,752.5 885.5,749 891,745.7 896.5,741.9 901.9,738.7 907.4,735.5 912.9,731.9 918.3,728.7 923.8,724.7 929.3,721.8 934.7,717.8 940.2,714.6 945.7,710.9 951.1,708 956.6,704.5" fill="none" stroke="#f00000" stroke-width="3" stroke-linejoin="round" stroke-linecap="round" />
<polyline points="574,938.5 579.5,935.4 584.9,931.7 590.4,929 595.9,925.1 601.3,922.2 606.8,918.5 612.3,915.7 617.7,912.1 623.2,909.2 628.7,905.9 634.1,902.7 639.6,899.2 645.1,896.2 650.5,893.1 656,889.2 661.5,886.2 666.9,883.3 672.4,879.8 677.8,876.4 683.3,873 688.8,870.2 694.2,866.3 699.7,863.6 705.2,860.3 710.6,856.6 716.1,853.5 721.6,850.2 727,847.1 732.5,843.7 738,840.8 743.4,837.6 748.9,833.9 754.4,831 759.8,827.2 765.3,823.9 770.8,821.2 776.2,818.1 781.7,815 787.2,812 792.6,808.7 798.1,805.1 803.6,802.3 809,799.3 814.5,795.5 820,792.7 825.4,789.3 830.9,786.1 836.4,783.2 841.8,780.2 847.3,777.2 852.8,773.5 858.2,770.6 863.7,767.8 869.1,764.5 874.6,761.1 880.1,757.8 885.5,754.9 891,751.5 896.5,748.6 901.9,745.5 907.4,742.1 912.9,739.2 918.3,735.8 923.8,732.7 929.3,729.8 934.7,726.2 940.2,723 945.7,720.2 951.1,716.9 956.6,714.1" fill="none" stroke="#1414e6" stroke-width="2.8" stroke-linejoin="round" stroke-linecap="round" />
<polyline points="574,931.5 579.5,928.8 584.9,925.7 590.4,922.2 595.9,919.6 601.3,916.4 606.8,912.9 612.3,910.4 617.7,906.9 623.2,903.9 628.7,900.9 634.1,897.9 639.6,894.5 645.1,891.9 650.5,888.9 656,885.6 661.5,882.7 666.9,879.5 672.4,876.6 677.8,873.1 683.3,870.1 688.8,867.2 694.2,863.8 699.7,861.4 705.2,858.1 710.6,854.6 716.1,851.9 721.6,848.7 727,845.5 732.5,842.4 738,839.5 743.4,836.2 748.9,833.5 754.4,830.4 759.8,827 765.3,824.5 770.8,821 776.2,818.2 781.7,815.7 787.2,812.4 792.6,809.6 798.1,806.8 803.6,803.8 809,801 814.5,798.1 820,795.1 825.4,791.9 830.9,789.5 836.4,786.3 841.8,783.2 847.3,780.5 852.8,777.9 858.2,774.9 863.7,771.8 869.1,768.9 874.6,765.8 880.1,763.2 885.5,760.1 891,757 896.5,754.1 901.9,751.2 907.4,748.7 912.9,745.9 918.3,742.9 923.8,739.7 929.3,736.7 934.7,734.4 940.2,731 945.7,728 951.1,725.4 956.6,722.5" fill="none" stroke="#f000c0" stroke-width="2.8" stroke-linejoin="round" stroke-linecap="round" />
<polyline points="574,826.4 620,825.4 700,824.8 956.6,824.6" fill="none" stroke="#0a0a8a" stroke-width="2.8" stroke-linejoin="round" stroke-linecap="round" />
<line x1="587" y1="707" x2="634.4" y2="707" stroke="#000" stroke-width="2.6" />
<text x="640.4" y="713.8" font-size="19.6" textLength="39" lengthAdjust="spacingAndGlyphs">DIW</text>
<line x1="587" y1="733" x2="634.4" y2="733" stroke="#6a78f0" stroke-width="2.6" />
<text x="640.4" y="739.6" font-size="19.6" textLength="64.6" lengthAdjust="spacingAndGlyphs">10 ppb</text>
<line x1="587" y1="760.2" x2="634.4" y2="760.2" stroke="#0a6a12" stroke-width="2.6" />
<text x="640.4" y="766.4" font-size="19.6" textLength="58.6" lengthAdjust="spacingAndGlyphs">1 ppm</text>
<line x1="718.4" y1="707" x2="765.2" y2="707" stroke="#f00000" stroke-width="2.6" />
<text x="770.4" y="713.8" font-size="19.6" textLength="54" lengthAdjust="spacingAndGlyphs">1 ppb</text>
<line x1="718.4" y1="733" x2="765.2" y2="733" stroke="#f860d8" stroke-width="2.6" />
<text x="770.4" y="739.6" font-size="19.6" textLength="77" lengthAdjust="spacingAndGlyphs">100 ppb</text>
<line x1="718.4" y1="760.2" x2="765.2" y2="760.2" stroke="#12128c" stroke-width="2.6" />
<text x="770.4" y="766.4" font-size="19.6" textLength="69" lengthAdjust="spacingAndGlyphs">10 ppm</text>
</g>
<g id="b_top">
<defs><radialGradient id="g6fa5dc" cx=".5" cy=".5" r=".5"><stop offset="0" stop-color="#cfe6fa"/><stop offset=".45" stop-color="#6fa5dc"/><stop offset="1" stop-color="#5a8fca"/></radialGradient><radialGradient id="g8a6a52" cx=".5" cy=".5" r=".5"><stop offset="0" stop-color="#b79c86"/><stop offset=".45" stop-color="#8a6a52"/><stop offset="1" stop-color="#6e4f3a"/></radialGradient><radialGradient id="gd22630" cx=".5" cy=".5" r=".5"><stop offset="0" stop-color="#f2a0a0"/><stop offset=".45" stop-color="#d22630"/><stop offset="1" stop-color="#b8141e"/></radialGradient><radialGradient id="ge6c3c8" cx=".5" cy=".5" r=".5"><stop offset="0" stop-color="#f6e6e8"/><stop offset=".45" stop-color="#e6c3c8"/><stop offset="1" stop-color="#d8aab2"/></radialGradient><radialGradient id="gb4b6b8" cx=".5" cy=".5" r=".5"><stop offset="0" stop-color="#e4e5e6"/><stop offset=".45" stop-color="#b4b6b8"/><stop offset="1" stop-color="#8f9294"/></radialGradient><radialGradient id="ge6d22a" cx=".5" cy=".5" r=".5"><stop offset="0" stop-color="#f8f0a0"/><stop offset=".45" stop-color="#e6d22a"/><stop offset="1" stop-color="#c8b010"/></radialGradient><filter id="soft"><feGaussianBlur stdDeviation=".45"/></filter></defs>
<rect x="1027" y="33.8" width="39.4" height="59.4" fill="#ffff00" />
<text x="1047.6" y="80.3" font-size="50.5" text-anchor="middle" textLength="31.6" lengthAdjust="spacingAndGlyphs" stroke="#000" stroke-width="1.5" stroke-linejoin="round">B</text>
<rect x="1151.6" y="36.8" width="304" height="240.8" rx="36" ry="36" fill="none" stroke="#8694b4" stroke-width="4" stroke-dasharray="19 17.2" stroke-dashoffset="-6"/>
<g filter="url(#soft)">
<line x1="1204.4" y1="174.6" x2="1190.2" y2="181.4" stroke="#8db7e2" stroke-width="2.6" /><line x1="1190.2" y1="181.4" x2="1176" y2="188.2" stroke="#8d6e58" stroke-width="2.6" />
<line x1="1204.4" y1="174.6" x2="1211.7" y2="181.6" stroke="#8db7e2" stroke-width="2.6" /><line x1="1211.7" y1="181.6" x2="1219" y2="188.7" stroke="#8d6e58" stroke-width="2.6" />
<line x1="1247.6" y1="174.6" x2="1233.2" y2="181.6" stroke="#8db7e2" stroke-width="2.6" /><line x1="1233.2" y1="181.6" x2="1219" y2="188.7" stroke="#8d6e58" stroke-width="2.6" />
<line x1="1247.6" y1="174.6" x2="1254.7" y2="181.6" stroke="#8db7e2" stroke-width="2.6" /><line x1="1254.7" y1="181.6" x2="1261.9" y2="188.7" stroke="#8d6e58" stroke-width="2.6" />
<line x1="1290.7" y1="174.6" x2="1276.3" y2="181.6" stroke="#8db7e2" stroke-width="2.6" /><line x1="1276.3" y1="181.6" x2="1261.9" y2="188.7" stroke="#8d6e58" stroke-width="2.6" />
<line x1="1290.7" y1="174.6" x2="1297.8" y2="181.6" stroke="#8db7e2" stroke-width="2.6" /><line x1="1297.8" y1="181.6" x2="1304.8" y2="188.7" stroke="#8d6e58" stroke-width="2.6" />
<line x1="1333.9" y1="174.6" x2="1319.3" y2="181.6" stroke="#8db7e2" stroke-width="2.6" /><line x1="1319.3" y1="181.6" x2="1304.8" y2="188.7" stroke="#8d6e58" stroke-width="2.6" />
<line x1="1333.9" y1="174.6" x2="1340.8" y2="181.6" stroke="#8db7e2" stroke-width="2.6" /><line x1="1340.8" y1="181.6" x2="1347.8" y2="188.7" stroke="#8d6e58" stroke-width="2.6" />
<line x1="1377" y1="174.6" x2="1362.4" y2="181.6" stroke="#8db7e2" stroke-width="2.6" /><line x1="1362.4" y1="181.6" x2="1347.8" y2="188.7" stroke="#8d6e58" stroke-width="2.6" />
<line x1="1377" y1="174.6" x2="1383.9" y2="181.6" stroke="#8db7e2" stroke-width="2.6" /><line x1="1383.9" y1="181.6" x2="1390.8" y2="188.7" stroke="#8d6e58" stroke-width="2.6" />
<line x1="1232.7" y1="205.5" x2="1225.8" y2="197.1" stroke="#8db7e2" stroke-width="2.6" /><line x1="1225.8" y1="197.1" x2="1219" y2="188.7" stroke="#8d6e58" stroke-width="2.6" />
<line x1="1232.7" y1="205.5" x2="1247.3" y2="197.1" stroke="#8db7e2" stroke-width="2.6" /><line x1="1247.3" y1="197.1" x2="1261.9" y2="188.7" stroke="#8d6e58" stroke-width="2.6" />
<line x1="1232.7" y1="205.5" x2="1217.8" y2="214.5" stroke="#8db7e2" stroke-width="2.6" /><line x1="1217.8" y1="214.5" x2="1203" y2="223.5" stroke="#8d6e58" stroke-width="2.6" />
<line x1="1232.7" y1="205.5" x2="1239.5" y2="214.5" stroke="#8db7e2" stroke-width="2.6" /><line x1="1239.5" y1="214.5" x2="1246.3" y2="223.5" stroke="#8d6e58" stroke-width="2.6" />
<line x1="1275.9" y1="205.5" x2="1268.9" y2="197.1" stroke="#8db7e2" stroke-width="2.6" /><line x1="1268.9" y1="197.1" x2="1261.9" y2="188.7" stroke="#8d6e58" stroke-width="2.6" />
<line x1="1275.9" y1="205.5" x2="1290.3" y2="197.1" stroke="#8db7e2" stroke-width="2.6" /><line x1="1290.3" y1="197.1" x2="1304.8" y2="188.7" stroke="#8d6e58" stroke-width="2.6" />
<line x1="1275.9" y1="205.5" x2="1261.1" y2="214.5" stroke="#8db7e2" stroke-width="2.6" /><line x1="1261.1" y1="214.5" x2="1246.3" y2="223.5" stroke="#8d6e58" stroke-width="2.6" />
<line x1="1275.9" y1="205.5" x2="1282.7" y2="214.5" stroke="#8db7e2" stroke-width="2.6" /><line x1="1282.7" y1="214.5" x2="1289.6" y2="223.5" stroke="#8d6e58" stroke-width="2.6" />
<line x1="1319" y1="205.5" x2="1311.9" y2="197.1" stroke="#8db7e2" stroke-width="2.6" /><line x1="1311.9" y1="197.1" x2="1304.8" y2="188.7" stroke="#8d6e58" stroke-width="2.6" />
<line x1="1319" y1="205.5" x2="1333.4" y2="197.1" stroke="#8db7e2" stroke-width="2.6" /><line x1="1333.4" y1="197.1" x2="1347.8" y2="188.7" stroke="#8d6e58" stroke-width="2.6" />
<line x1="1319" y1="205.5" x2="1304.3" y2="214.5" stroke="#8db7e2" stroke-width="2.6" /><line x1="1304.3" y1="214.5" x2="1289.6" y2="223.5" stroke="#8d6e58" stroke-width="2.6" />
<line x1="1319" y1="205.5" x2="1326" y2="214.5" stroke="#8db7e2" stroke-width="2.6" /><line x1="1326" y1="214.5" x2="1332.9" y2="223.5" stroke="#8d6e58" stroke-width="2.6" />
<line x1="1362.2" y1="205.5" x2="1355" y2="197.1" stroke="#8db7e2" stroke-width="2.6" /><line x1="1355" y1="197.1" x2="1347.8" y2="188.7" stroke="#8d6e58" stroke-width="2.6" />
<line x1="1362.2" y1="205.5" x2="1376.5" y2="197.1" stroke="#8db7e2" stroke-width="2.6" /><line x1="1376.5" y1="197.1" x2="1390.8" y2="188.7" stroke="#8d6e58" stroke-width="2.6" />
<line x1="1362.2" y1="205.5" x2="1347.5" y2="214.5" stroke="#8db7e2" stroke-width="2.6" /><line x1="1347.5" y1="214.5" x2="1332.9" y2="223.5" stroke="#8d6e58" stroke-width="2.6" />
<line x1="1362.2" y1="205.5" x2="1369.2" y2="214.5" stroke="#8db7e2" stroke-width="2.6" /><line x1="1369.2" y1="214.5" x2="1376.2" y2="223.5" stroke="#8d6e58" stroke-width="2.6" />
<line x1="1405.3" y1="205.5" x2="1398" y2="197.1" stroke="#8db7e2" stroke-width="2.6" /><line x1="1398" y1="197.1" x2="1390.8" y2="188.7" stroke="#8d6e58" stroke-width="2.6" />
<line x1="1405.3" y1="205.5" x2="1419.5" y2="197.8" stroke="#8db7e2" stroke-width="2.6" /><line x1="1419.5" y1="197.8" x2="1433.7" y2="190.2" stroke="#8d6e58" stroke-width="2.6" />
<line x1="1405.3" y1="205.5" x2="1390.8" y2="214.5" stroke="#8db7e2" stroke-width="2.6" /><line x1="1390.8" y1="214.5" x2="1376.2" y2="223.5" stroke="#8d6e58" stroke-width="2.6" />
<line x1="1405.3" y1="205.5" x2="1412.4" y2="215" stroke="#8db7e2" stroke-width="2.6" /><line x1="1412.4" y1="215" x2="1419.5" y2="224.5" stroke="#8d6e58" stroke-width="2.6" />
<line x1="1218.6" y1="236.4" x2="1210.8" y2="229.9" stroke="#8db7e2" stroke-width="2.6" /><line x1="1210.8" y1="229.9" x2="1203" y2="223.5" stroke="#8d6e58" stroke-width="2.6" />
<line x1="1218.6" y1="236.4" x2="1232.4" y2="229.9" stroke="#8db7e2" stroke-width="2.6" /><line x1="1232.4" y1="229.9" x2="1246.3" y2="223.5" stroke="#8d6e58" stroke-width="2.6" />
<line x1="1261.4" y1="236.4" x2="1253.9" y2="229.9" stroke="#8db7e2" stroke-width="2.6" /><line x1="1253.9" y1="229.9" x2="1246.3" y2="223.5" stroke="#8d6e58" stroke-width="2.6" />
<line x1="1261.4" y1="236.4" x2="1275.5" y2="229.9" stroke="#8db7e2" stroke-width="2.6" /><line x1="1275.5" y1="229.9" x2="1289.6" y2="223.5" stroke="#8d6e58" stroke-width="2.6" />
<line x1="1304.3" y1="236.4" x2="1296.9" y2="229.9" stroke="#8db7e2" stroke-width="2.6" /><line x1="1296.9" y1="229.9" x2="1289.6" y2="223.5" stroke="#8d6e58" stroke-width="2.6" />
<line x1="1304.3" y1="236.4" x2="1318.6" y2="229.9" stroke="#8db7e2" stroke-width="2.6" /><line x1="1318.6" y1="229.9" x2="1332.9" y2="223.5" stroke="#8d6e58" stroke-width="2.6" />
<line x1="1347.1" y1="236.4" x2="1340" y2="229.9" stroke="#8db7e2" stroke-width="2.6" /><line x1="1340" y1="229.9" x2="1332.9" y2="223.5" stroke="#8d6e58" stroke-width="2.6" />
<line x1="1347.1" y1="236.4" x2="1361.7" y2="229.9" stroke="#8db7e2" stroke-width="2.6" /><line x1="1361.7" y1="229.9" x2="1376.2" y2="223.5" stroke="#8d6e58" stroke-width="2.6" />
<line x1="1390" y1="236.4" x2="1383.1" y2="229.9" stroke="#8db7e2" stroke-width="2.6" /><line x1="1383.1" y1="229.9" x2="1376.2" y2="223.5" stroke="#8d6e58" stroke-width="2.6" />
<line x1="1390" y1="236.4" x2="1404.8" y2="230.4" stroke="#8db7e2" stroke-width="2.6" /><line x1="1404.8" y1="230.4" x2="1419.5" y2="224.5" stroke="#8d6e58" stroke-width="2.6" />
<line x1="1204.4" y1="174.6" x2="1197.3" y2="166.8" stroke="#8db7e2" stroke-width="2.6" /><line x1="1197.3" y1="166.8" x2="1190.2" y2="159" stroke="#d0343c" stroke-width="2.6" />
<line x1="1204.4" y1="174.6" x2="1218.8" y2="166.8" stroke="#8db7e2" stroke-width="2.6" /><line x1="1218.8" y1="166.8" x2="1233.2" y2="159" stroke="#d0343c" stroke-width="2.6" />
<line x1="1247.6" y1="174.6" x2="1240.4" y2="166.8" stroke="#8db7e2" stroke-width="2.6" /><line x1="1240.4" y1="166.8" x2="1233.2" y2="159" stroke="#d0343c" stroke-width="2.6" />
<line x1="1247.6" y1="174.6" x2="1261.9" y2="166.8" stroke="#8db7e2" stroke-width="2.6" /><line x1="1261.9" y1="166.8" x2="1276.2" y2="159" stroke="#d0343c" stroke-width="2.6" />
<line x1="1290.7" y1="174.6" x2="1283.5" y2="166.8" stroke="#8db7e2" stroke-width="2.6" /><line x1="1283.5" y1="166.8" x2="1276.2" y2="159" stroke="#d0343c" stroke-width="2.6" />
<line x1="1290.7" y1="174.6" x2="1305" y2="166.8" stroke="#8db7e2" stroke-width="2.6" /><line x1="1305" y1="166.8" x2="1319.3" y2="159" stroke="#d0343c" stroke-width="2.6" />
<line x1="1333.9" y1="174.6" x2="1326.6" y2="166.8" stroke="#8db7e2" stroke-width="2.6" /><line x1="1326.6" y1="166.8" x2="1319.3" y2="159" stroke="#d0343c" stroke-width="2.6" />
<line x1="1333.9" y1="174.6" x2="1348.1" y2="166.8" stroke="#8db7e2" stroke-width="2.6" /><line x1="1348.1" y1="166.8" x2="1362.3" y2="159" stroke="#d0343c" stroke-width="2.6" />
<line x1="1377" y1="174.6" x2="1369.6" y2="166.8" stroke="#8db7e2" stroke-width="2.6" /><line x1="1369.6" y1="166.8" x2="1362.3" y2="159" stroke="#d0343c" stroke-width="2.6" />
<line x1="1377" y1="174.6" x2="1391.2" y2="166.8" stroke="#8db7e2" stroke-width="2.6" /><line x1="1391.2" y1="166.8" x2="1405.3" y2="159" stroke="#d0343c" stroke-width="2.6" />
<line x1="1218.6" y1="236.4" x2="1203.8" y2="245.2" stroke="#8db7e2" stroke-width="2.6" /><line x1="1203.8" y1="245.2" x2="1189" y2="254" stroke="#d0343c" stroke-width="2.6" />
<line x1="1218.6" y1="236.4" x2="1225.3" y2="245.2" stroke="#8db7e2" stroke-width="2.6" /><line x1="1225.3" y1="245.2" x2="1232" y2="254" stroke="#d0343c" stroke-width="2.6" />
<line x1="1261.4" y1="236.4" x2="1246.7" y2="245.2" stroke="#8db7e2" stroke-width="2.6" /><line x1="1246.7" y1="245.2" x2="1232" y2="254" stroke="#d0343c" stroke-width="2.6" />
<line x1="1261.4" y1="236.4" x2="1268.2" y2="245.2" stroke="#8db7e2" stroke-width="2.6" /><line x1="1268.2" y1="245.2" x2="1275" y2="254" stroke="#d0343c" stroke-width="2.6" />
<line x1="1304.3" y1="236.4" x2="1289.7" y2="245.2" stroke="#8db7e2" stroke-width="2.6" /><line x1="1289.7" y1="245.2" x2="1275" y2="254" stroke="#d0343c" stroke-width="2.6" />
<line x1="1304.3" y1="236.4" x2="1311.2" y2="245.2" stroke="#8db7e2" stroke-width="2.6" /><line x1="1311.2" y1="245.2" x2="1318" y2="254" stroke="#d0343c" stroke-width="2.6" />
<line x1="1347.1" y1="236.4" x2="1332.6" y2="245.2" stroke="#8db7e2" stroke-width="2.6" /><line x1="1332.6" y1="245.2" x2="1318" y2="254" stroke="#d0343c" stroke-width="2.6" />
<line x1="1347.1" y1="236.4" x2="1354.1" y2="245.2" stroke="#8db7e2" stroke-width="2.6" /><line x1="1354.1" y1="245.2" x2="1361" y2="254" stroke="#d0343c" stroke-width="2.6" />
<line x1="1390" y1="236.4" x2="1375.5" y2="245.2" stroke="#8db7e2" stroke-width="2.6" /><line x1="1375.5" y1="245.2" x2="1361" y2="254" stroke="#d0343c" stroke-width="2.6" />
<line x1="1390" y1="236.4" x2="1397" y2="245.2" stroke="#8db7e2" stroke-width="2.6" /><line x1="1397" y1="245.2" x2="1404" y2="254" stroke="#d0343c" stroke-width="2.6" />
<line x1="1190.2" y1="159" x2="1190.2" y2="146" stroke="#dcaab0" stroke-width="2" />
<circle cx="1190.2" cy="146" r="2.8" fill="url(#ge6c3c8)"/>
<line x1="1233.2" y1="159" x2="1233.2" y2="146" stroke="#dcaab0" stroke-width="2" />
<circle cx="1233.2" cy="146" r="2.8" fill="url(#ge6c3c8)"/>
<line x1="1362.3" y1="159" x2="1362.3" y2="146" stroke="#dcaab0" stroke-width="2" />
<circle cx="1362.3" cy="146" r="2.8" fill="url(#ge6c3c8)"/>
<line x1="1405.3" y1="159" x2="1405.3" y2="146" stroke="#dcaab0" stroke-width="2" />
<circle cx="1405.3" cy="146" r="2.8" fill="url(#ge6c3c8)"/>
<line x1="1189" y1="254" x2="1189" y2="264.6" stroke="#dcaab0" stroke-width="2" />
<circle cx="1189" cy="264.6" r="2.8" fill="url(#ge6c3c8)"/>
<line x1="1232" y1="254" x2="1232" y2="264.6" stroke="#dcaab0" stroke-width="2" />
<circle cx="1232" cy="264.6" r="2.8" fill="url(#ge6c3c8)"/>
<line x1="1275" y1="254" x2="1275" y2="264.6" stroke="#dcaab0" stroke-width="2" />
<circle cx="1275" cy="264.6" r="2.8" fill="url(#ge6c3c8)"/>
<line x1="1318" y1="254" x2="1318" y2="264.6" stroke="#dcaab0" stroke-width="2" />
<circle cx="1318" cy="264.6" r="2.8" fill="url(#ge6c3c8)"/>
<line x1="1361" y1="254" x2="1361" y2="264.6" stroke="#dcaab0" stroke-width="2" />
<circle cx="1361" cy="264.6" r="2.8" fill="url(#ge6c3c8)"/>
<line x1="1404" y1="254" x2="1404" y2="264.6" stroke="#dcaab0" stroke-width="2" />
<circle cx="1404" cy="264.6" r="2.8" fill="url(#ge6c3c8)"/>
<line x1="1288" y1="84.4" x2="1328" y2="88.3" stroke="#a9acae" stroke-width="2.6" />
<line x1="1288" y1="84.4" x2="1262.4" y2="110.2" stroke="#a9acae" stroke-width="2.6" />
<line x1="1288" y1="84.4" x2="1276.5" y2="116.6" stroke="#a9acae" stroke-width="2.6" />
<line x1="1288" y1="84.4" x2="1302.3" y2="119.2" stroke="#a9acae" stroke-width="2.6" />
<line x1="1288" y1="84.4" x2="1316.5" y2="106.3" stroke="#a9acae" stroke-width="2.6" />
<line x1="1328" y1="88.3" x2="1316.5" y2="106.3" stroke="#a9acae" stroke-width="2.6" />
<line x1="1316.5" y1="106.3" x2="1302.3" y2="119.2" stroke="#a9acae" stroke-width="2.6" />
<line x1="1262.4" y1="110.2" x2="1276.5" y2="116.6" stroke="#a9acae" stroke-width="2.6" />
<line x1="1276.5" y1="116.6" x2="1302.3" y2="119.2" stroke="#a9acae" stroke-width="2.6" />
<line x1="1328" y1="88.3" x2="1302.3" y2="119.2" stroke="#a9acae" stroke-width="2.6" />
<line x1="1262.4" y1="110.2" x2="1302.3" y2="119.2" stroke="#a9acae" stroke-width="2.6" />
<line x1="1262.4" y1="110.2" x2="1269.3" y2="134.6" stroke="#b9b4b6" stroke-width="2" /><line x1="1269.3" y1="134.6" x2="1276.2" y2="159" stroke="#e0b6ba" stroke-width="2" />
<line x1="1276.5" y1="116.6" x2="1276.4" y2="137.8" stroke="#b9b4b6" stroke-width="2" /><line x1="1276.4" y1="137.8" x2="1276.2" y2="159" stroke="#e0b6ba" stroke-width="2" />
<line x1="1302.3" y1="119.2" x2="1289.3" y2="139.1" stroke="#b9b4b6" stroke-width="2" /><line x1="1289.3" y1="139.1" x2="1276.2" y2="159" stroke="#e0b6ba" stroke-width="2" />
<line x1="1302.3" y1="119.2" x2="1310.8" y2="139.1" stroke="#b9b4b6" stroke-width="2" /><line x1="1310.8" y1="139.1" x2="1319.3" y2="159" stroke="#e0b6ba" stroke-width="2" />
<line x1="1316.5" y1="106.3" x2="1317.9" y2="132.7" stroke="#b9b4b6" stroke-width="2" /><line x1="1317.9" y1="132.7" x2="1319.3" y2="159" stroke="#e0b6ba" stroke-width="2" />
<line x1="1328" y1="88.3" x2="1323.6" y2="123.7" stroke="#b9b4b6" stroke-width="2" /><line x1="1323.6" y1="123.7" x2="1319.3" y2="159" stroke="#e0b6ba" stroke-width="2" />
<line x1="1275" y1="48.9" x2="1281.5" y2="66.7" stroke="#e4cf2c" stroke-width="2.6" /><line x1="1281.5" y1="66.7" x2="1288" y2="84.4" stroke="#b0b2b4" stroke-width="2.6" />
<line x1="1275" y1="48.9" x2="1290.7" y2="43.2" stroke="#e6c8a0" stroke-width="2" />
<line x1="1275" y1="48.9" x2="1261" y2="47.6" stroke="#e6c8a0" stroke-width="2" />
<circle cx="1290.7" cy="43.2" r="2.6" fill="url(#ge6c3c8)"/>
<circle cx="1261" cy="47.6" r="2.6" fill="url(#ge6c3c8)"/>
<circle cx="1275" cy="48.9" r="5.2" fill="url(#ge6d22a)"/>
<circle cx="1190.2" cy="159" r="4.7" fill="url(#gd22630)"/>
<circle cx="1233.2" cy="159" r="4.7" fill="url(#gd22630)"/>
<circle cx="1276.2" cy="159" r="4.7" fill="url(#gd22630)"/>
<circle cx="1319.3" cy="159" r="4.7" fill="url(#gd22630)"/>
<circle cx="1362.3" cy="159" r="4.7" fill="url(#gd22630)"/>
<circle cx="1405.3" cy="159" r="4.7" fill="url(#gd22630)"/>
<circle cx="1189" cy="254" r="4.7" fill="url(#gd22630)"/>
<circle cx="1232" cy="254" r="4.7" fill="url(#gd22630)"/>
<circle cx="1275" cy="254" r="4.7" fill="url(#gd22630)"/>
<circle cx="1318" cy="254" r="4.7" fill="url(#gd22630)"/>
<circle cx="1361" cy="254" r="4.7" fill="url(#gd22630)"/>
<circle cx="1404" cy="254" r="4.7" fill="url(#gd22630)"/>
<circle cx="1176" cy="188.2" r="4.6" fill="url(#g8a6a52)"/>
<circle cx="1219" cy="188.7" r="4.6" fill="url(#g8a6a52)"/>
<circle cx="1261.9" cy="188.7" r="4.6" fill="url(#g8a6a52)"/>
<circle cx="1304.8" cy="188.7" r="4.6" fill="url(#g8a6a52)"/>
<circle cx="1347.8" cy="188.7" r="4.6" fill="url(#g8a6a52)"/>
<circle cx="1390.8" cy="188.7" r="4.6" fill="url(#g8a6a52)"/>
<circle cx="1433.7" cy="190.2" r="4.6" fill="url(#g8a6a52)"/>
<circle cx="1203" cy="223.5" r="4.6" fill="url(#g8a6a52)"/>
<circle cx="1246.3" cy="223.5" r="4.6" fill="url(#g8a6a52)"/>
<circle cx="1289.6" cy="223.5" r="4.6" fill="url(#g8a6a52)"/>
<circle cx="1332.9" cy="223.5" r="4.6" fill="url(#g8a6a52)"/>
<circle cx="1376.2" cy="223.5" r="4.6" fill="url(#g8a6a52)"/>
<circle cx="1419.5" cy="224.5" r="4.6" fill="url(#g8a6a52)"/>
<circle cx="1204.4" cy="174.6" r="8" fill="url(#g6fa5dc)"/>
<circle cx="1247.6" cy="174.6" r="8" fill="url(#g6fa5dc)"/>
<circle cx="1290.7" cy="174.6" r="8" fill="url(#g6fa5dc)"/>
<circle cx="1333.9" cy="174.6" r="8" fill="url(#g6fa5dc)"/>
<circle cx="1377" cy="174.6" r="8" fill="url(#g6fa5dc)"/>
<circle cx="1232.7" cy="205.5" r="8" fill="url(#g6fa5dc)"/>
<circle cx="1275.9" cy="205.5" r="8" fill="url(#g6fa5dc)"/>
<circle cx="1319" cy="205.5" r="8" fill="url(#g6fa5dc)"/>
<circle cx="1362.2" cy="205.5" r="8" fill="url(#g6fa5dc)"/>
<circle cx="1405.3" cy="205.5" r="8" fill="url(#g6fa5dc)"/>
<circle cx="1218.6" cy="236.4" r="8" fill="url(#g6fa5dc)"/>
<circle cx="1261.4" cy="236.4" r="8" fill="url(#g6fa5dc)"/>
<circle cx="1304.3" cy="236.4" r="8" fill="url(#g6fa5dc)"/>
<circle cx="1347.1" cy="236.4" r="8" fill="url(#g6fa5dc)"/>
<circle cx="1390" cy="236.4" r="8" fill="url(#g6fa5dc)"/>
<circle cx="1262.4" cy="110.2" r="8.2" fill="url(#gb4b6b8)"/>
<circle cx="1276.5" cy="116.6" r="8.2" fill="url(#gb4b6b8)"/>
<circle cx="1302.3" cy="119.2" r="8.2" fill="url(#gb4b6b8)"/>
<circle cx="1316.5" cy="106.3" r="8.2" fill="url(#gb4b6b8)"/>
<circle cx="1288" cy="84.4" r="8.2" fill="url(#gb4b6b8)"/>
<circle cx="1328" cy="88.3" r="8.2" fill="url(#gb4b6b8)"/>
<circle cx="1182.6" cy="53.6" r="5.6" fill="#f6e6e8" stroke="#e6c3c8" stroke-width="3"/>
<circle cx="1183.6" cy="78" r="5.6" fill="#f8f0a0" stroke="#e6d22a" stroke-width="3"/>
<circle cx="1182.6" cy="103" r="5.6" fill="#e4e5e6" stroke="#b4b6b8" stroke-width="3"/>
<circle cx="1383.4" cy="53.6" r="5.6" fill="#f2a0a0" stroke="#d22630" stroke-width="3"/>
<circle cx="1383.4" cy="78" r="5.6" fill="#cfe6fa" stroke="#6fa5dc" stroke-width="3"/>
<circle cx="1383.4" cy="103" r="5.6" fill="#b79c86" stroke="#8a6a52" stroke-width="3"/>
</g>
<text x="1204.4" y="61.4" font-size="21.5" fill="#0a0a0a" textLength="15.6" lengthAdjust="spacingAndGlyphs" stroke="#0a0a0a" stroke-width="0.55">H</text>
<text x="1204.4" y="85.2" font-size="21.5" fill="#0a0a0a" textLength="12.4" lengthAdjust="spacingAndGlyphs" stroke="#0a0a0a" stroke-width="0.55">S</text>
<text x="1203.6" y="110.2" font-size="21.5" fill="#0a0a0a" textLength="29.5" lengthAdjust="spacingAndGlyphs" stroke="#0a0a0a" stroke-width="0.55">Ag</text>
<text x="1405.6" y="61.4" font-size="21.5" fill="#0a0a0a" textLength="17.4" lengthAdjust="spacingAndGlyphs" stroke="#0a0a0a" stroke-width="0.55">O</text>
<text x="1405.6" y="85.2" font-size="21.5" fill="#0a0a0a" textLength="18.6" lengthAdjust="spacingAndGlyphs" stroke="#0a0a0a" stroke-width="0.55">Ti</text>
<text x="1405.6" y="110.2" font-size="21.5" fill="#0a0a0a" textLength="14.4" lengthAdjust="spacingAndGlyphs" stroke="#0a0a0a" stroke-width="0.55">C</text>
<text x="1018.6" y="310" font-size="24.5" fill="#111" textLength="127.6" lengthAdjust="spacingAndGlyphs" stroke="#111" stroke-width="0.55">Humidity</text>
</g>
<g id="b_device">
<defs><radialGradient id="gS2" cx=".42" cy=".38" r=".62"><stop offset="0" stop-color="#fbf36a"/><stop offset=".45" stop-color="#e6d412"/><stop offset="1" stop-color="#a89a08"/></radialGradient><radialGradient id="gAg2" cx=".45" cy=".42" r=".6"><stop offset="0" stop-color="#ffffff"/><stop offset=".5" stop-color="#e3e3e3"/><stop offset="1" stop-color="#a9abad"/></radialGradient><radialGradient id="cloud" cx=".5" cy=".5" r=".5"><stop offset="0" stop-color="#dfe6f0"/><stop offset=".75" stop-color="#e3e9f1"/><stop offset="1" stop-color="#e8ecf1" stop-opacity="0"/></radialGradient><linearGradient id="pcb" x1="0" y1="0" x2="1" y2="1"><stop offset="0" stop-color="#5f8337"/><stop offset="1" stop-color="#567a30"/></linearGradient><clipPath id="senseclip"><polygon points="1110.5,511.5 1226,451.5 1349.5,513 1236,580.5"/></clipPath><filter id="soft2"><feGaussianBlur stdDeviation=".7"/></filter></defs>
<path d="M1058 420 C1055 380 1068 352 1100 343.5 C1130 337 1162 340 1184 349 L1262 379 L1304 398 L1304 424 L1084 524 C1066 492 1059 456 1058 420Z" fill="#eaeef3" filter="url(#soft2)"/>
<line x1="1079.6" y1="374.4" x2="1069.9" y2="333.1" stroke="#0a0a0a" stroke-width="3.6" /><polygon points="1067.4,322.4 1075.4,332.8 1064.9,335.3" fill="#0a0a0a" />
<g filter="url(#soft2)">
<polygon points="1032.4,513 1238.6,612.6 1515.4,471.4 1515.4,477.9 1238.6,619.1 1032.4,518" fill="#3c5a22" />
<polygon points="1313.4,367.6 1515.4,471.4 1238.6,612.6 1032.4,513" fill="url(#pcb)" />
<polygon points="1110.5,511.5 1226,451.5 1349.5,513 1236,580.5" fill="#4f76b4" />
<path d="M1115.5 508.9L1240.9 577.6M1125.6 503.7L1250.8 571.7M1135.6 498.5L1260.7 565.8M1145.7 493.2L1270.5 560M1155.7 488L1280.4 554.1M1165.7 482.8L1290.3 548.2M1175.8 477.6L1300.2 542.3M1185.8 472.4L1310 536.5M1195.9 467.2L1319.9 530.6M1205.9 461.9L1329.8 524.7M1216 456.7L1339.6 518.9" stroke="#829cce" stroke-width="2.7" fill="none" clip-path="url(#senseclip)" opacity=".8"/>
<path d="M1280 412.4L1226 443.2L1086.6 507.6L1238.6 586.4L1356 524L1422 489.6" fill="none" stroke="#f3bb28" stroke-width="4.8" stroke-linejoin="miter"/>
<path d="M1226 450.5L1351 512.4" fill="none" stroke="#f3bb28" stroke-width="3"/>
<path d="M1103 512.5L1230 578" fill="none" stroke="#f3bb28" stroke-width="2.4"/>
<path d="M1108.1 497.6l9.5 5M1132.2 486.5l9.5 5M1156.3 475.3l9.5 5M1180.4 464.2l9.5 5M1204.6 453.1l9.5 5M1250.3 580.2l-10 -5.2M1269.1 570.2l-10 -5.2M1287.9 560.2l-10 -5.2M1306.7 550.2l-10 -5.2M1325.5 540.2l-10 -5.2M1344.3 530.2l-10 -5.2" stroke="#f3bb28" stroke-width="4" fill="none"/>
<polygon points="1278.6,413.2 1309.4,396.6 1342.4,412.6 1310.4,428.6" fill="#f6c02c" />
<polygon points="1397.6,472.8 1429.6,456.2 1460.2,472.8 1428.2,489.6" fill="#f6c02c" />
</g>
<circle cx="1237.2" cy="481.8" r="9.8" fill="url(#gAg2)"/>
<circle cx="1204.8" cy="509.4" r="9.8" fill="url(#gAg2)"/>
<circle cx="1155" cy="521.8" r="9.8" fill="url(#gAg2)"/>
<circle cx="1287" cy="513.8" r="9.8" fill="url(#gAg2)"/>
<circle cx="1218.4" cy="546.2" r="9.8" fill="url(#gAg2)"/>
<line x1="1154.8" y1="374.6" x2="1129.3" y2="376.8" stroke="#e3b7b4" stroke-width="2.4" /><circle cx="1129.3" cy="376.8" r="2.7" fill="#e7b9bf" stroke="#cf98a2" stroke-width=".6"/><line x1="1154.8" y1="374.6" x2="1170.8" y2="398.1" stroke="#e3b7b4" stroke-width="2.4" /><circle cx="1170.8" cy="398.1" r="2.7" fill="#e7b9bf" stroke="#cf98a2" stroke-width=".6"/><circle cx="1154.8" cy="374.6" r="9.6" fill="url(#gS2)"/>
<line x1="1130.7" y1="429.9" x2="1111.3" y2="446" stroke="#e3b7b4" stroke-width="2.4" /><circle cx="1111.3" cy="446" r="2.7" fill="#e7b9bf" stroke="#cf98a2" stroke-width=".6"/><line x1="1130.7" y1="429.9" x2="1159.7" y2="438.2" stroke="#e3b7b4" stroke-width="2.4" /><circle cx="1159.7" cy="438.2" r="2.7" fill="#e7b9bf" stroke="#cf98a2" stroke-width=".6"/><circle cx="1130.7" cy="429.9" r="9.6" fill="url(#gS2)"/>
<line x1="1226.1" y1="414.7" x2="1213.7" y2="394.8" stroke="#e3b7b4" stroke-width="2.4" /><circle cx="1213.7" cy="394.8" r="2.7" fill="#e7b9bf" stroke="#cf98a2" stroke-width=".6"/><line x1="1226.1" y1="414.7" x2="1209" y2="438.2" stroke="#e3b7b4" stroke-width="2.4" /><circle cx="1209" cy="438.2" r="2.7" fill="#e7b9bf" stroke="#cf98a2" stroke-width=".6"/><circle cx="1226.1" cy="414.7" r="9.6" fill="url(#gS2)"/>
<line x1="1182.7" y1="490.8" x2="1154.2" y2="480.6" stroke="#e3b7b4" stroke-width="2.4" /><circle cx="1154.2" cy="480.6" r="2.7" fill="#e7b9bf" stroke="#cf98a2" stroke-width=".6"/><line x1="1182.7" y1="490.8" x2="1198.5" y2="475.6" stroke="#e3b7b4" stroke-width="2.4" /><circle cx="1198.5" cy="475.6" r="2.7" fill="#e7b9bf" stroke="#cf98a2" stroke-width=".6"/><circle cx="1182.7" cy="490.8" r="9.6" fill="url(#gS2)"/>
<line x1="1258" y1="510.2" x2="1230.3" y2="502.7" stroke="#e3b7b4" stroke-width="2.4" /><circle cx="1230.3" cy="502.7" r="2.7" fill="#e7b9bf" stroke="#cf98a2" stroke-width=".6"/><line x1="1258" y1="510.2" x2="1277.3" y2="496.3" stroke="#e3b7b4" stroke-width="2.4" /><circle cx="1277.3" cy="496.3" r="2.7" fill="#e7b9bf" stroke="#cf98a2" stroke-width=".6"/><circle cx="1258" cy="510.2" r="9.6" fill="url(#gS2)"/>
<line x1="1188.8" y1="542" x2="1158.4" y2="536.5" stroke="#e3b7b4" stroke-width="2.4" /><circle cx="1158.4" cy="536.5" r="2.7" fill="#e7b9bf" stroke="#cf98a2" stroke-width=".6"/><line x1="1188.8" y1="542" x2="1204" y2="524" stroke="#e3b7b4" stroke-width="2.4" /><circle cx="1204" cy="524" r="2.7" fill="#e7b9bf" stroke="#cf98a2" stroke-width=".6"/><circle cx="1188.8" cy="542" r="9.6" fill="url(#gS2)"/>
<line x1="1291" y1="507" x2="1300" y2="492" stroke="#e0c0c8" stroke-width="1.6" /><line x1="1283" y1="522" x2="1272" y2="536" stroke="#c8d0e4" stroke-width="1.6" />
<defs><linearGradient id="lead" gradientUnits="userSpaceOnUse" x1="0" y1="283" x2="0" y2="482"><stop offset="0" stop-color="#8492b2"/><stop offset=".32" stop-color="#8a98b8"/><stop offset=".5" stop-color="#a3b1cb"/><stop offset="1" stop-color="#a9b7cd"/></linearGradient></defs>
<path d="M1160 283L1190 458M1424 289L1306 482" fill="none" stroke="url(#lead)" stroke-width="4.2" stroke-dasharray="20 15.5" opacity=".92"/>
<path d="M1316 514 C1340 514 1358 530 1370.5 566" fill="none" stroke="#0a0a0a" stroke-width="2.8"/>
<polygon points="1374.6,582 1365.4,567.4 1378.8,565" fill="#0a0a0a" />
<text x="1346.5" y="612.6" font-size="25" fill="#111" textLength="142.5" lengthAdjust="spacingAndGlyphs" stroke="#111" stroke-width="0.55">Ag-Ti<tspan font-size="18.5" baseline-shift="-3">3</tspan>C<tspan font-size="18.5" baseline-shift="-3">2</tspan>T<tspan font-size="18.5" baseline-shift="-3">x</tspan></text>
</g>
<g id="b_bar">
<defs><linearGradient id="barbg" x1="0" y1="0" x2="1" y2="0"><stop offset="0" stop-color="#f3f3f3"/><stop offset="1" stop-color="#eef0f4"/></linearGradient><linearGradient id="bigarrow" x1="0" y1="0" x2="1" y2="1"><stop offset="0" stop-color="#7f9ed0"/><stop offset=".6" stop-color="#a9c2ea"/><stop offset="1" stop-color="#8db4ea"/></linearGradient><filter id="soft3"><feGaussianBlur stdDeviation=".6"/></filter></defs>
<rect x="1661.8" y="34.8" width="357.2" height="257.6" fill="url(#barbg)" />
<path d="M1661.8 64.1H2019M1661.8 92.8H2019M1661.8 121.6H2019M1661.8 150.3H2019M1661.8 179H2019M1661.8 207.7H2019M1661.8 236.4H2019M1661.8 265.2H2019" stroke="#d9dadc" stroke-width="1.2" fill="none"/>
<g filter="url(#soft3)">
<rect x="1661.8" y="39.4" width="41.1" height="9.4" fill="#6186d2" />
<rect x="1661.8" y="50.8" width="25.7" height="9.4" fill="#f0928c" />
<path d="M1702.9 44.1h7.1m0 -3.2v6.4" stroke="#8fb0ea" stroke-width="1.7" fill="none"/>
<path d="M1687.5 55.5h4.4m0 -2.6v5.2" stroke="#f6b4ae" stroke-width="1.5" fill="none"/>
<line x1="1782" y1="49.2" x2="1782" y2="39.2" stroke="#d8a030" stroke-width="1.8" /><line x1="1782" y1="49.2" x2="1772" y2="56.2" stroke="#c040c0" stroke-width="1.8" /><line x1="1782" y1="49.2" x2="1792" y2="56.2" stroke="#c040c0" stroke-width="1.8" /><circle cx="1782" cy="38.7" r="2.6" fill="#d02020"/><circle cx="1771" cy="56.7" r="2.4" fill="#c030c0"/><circle cx="1793" cy="56.7" r="2.4" fill="#c030c0"/><circle cx="1782" cy="49.2" r="4.2" fill="#e6c828"/>
<rect x="1661.8" y="68.1" width="44.6" height="9.4" fill="#6186d2" />
<rect x="1661.8" y="79.5" width="23.6" height="9.4" fill="#f0928c" />
<path d="M1706.5 72.8h7.1m0 -3.2v6.4" stroke="#8fb0ea" stroke-width="1.7" fill="none"/>
<path d="M1685.4 84.2h4.4m0 -2.6v5.2" stroke="#f6b4ae" stroke-width="1.5" fill="none"/>
<line x1="1782" y1="77.9" x2="1782" y2="66.9" stroke="#b040c0" stroke-width="1.8" /><line x1="1782" y1="77.9" x2="1771" y2="83.9" stroke="#b040c0" stroke-width="1.8" /><line x1="1782" y1="77.9" x2="1793" y2="83.9" stroke="#b040c0" stroke-width="1.8" /><circle cx="1782" cy="66.4" r="2.2" fill="#c030c0"/><circle cx="1770" cy="84.4" r="2.4" fill="#c030c0"/><circle cx="1794" cy="84.4" r="2.4" fill="#c030c0"/><circle cx="1782" cy="77.9" r="4.4" fill="#2038d0"/>
<rect x="1661.8" y="96.8" width="53.6" height="9.4" fill="#6186d2" />
<rect x="1661.8" y="108.2" width="21.4" height="9.4" fill="#f0928c" />
<path d="M1715.4 101.5h4.3m0 -3.2v6.4" stroke="#8fb0ea" stroke-width="1.7" fill="none"/>
<path d="M1683.2 112.9h4.4m0 -2.6v5.2" stroke="#f6b4ae" stroke-width="1.5" fill="none"/>
<line x1="1774" y1="106.6" x2="1791" y2="106.6" stroke="#c89030" stroke-width="3" /><circle cx="1773" cy="106.6" r="5.6" fill="#f0c010"/><circle cx="1792" cy="106.6" r="5.2" fill="#d81820"/>
<rect x="1661.8" y="125.5" width="53.6" height="9.4" fill="#6186d2" />
<rect x="1661.8" y="136.9" width="23.6" height="9.4" fill="#f0928c" />
<path d="M1715.4 130.2h5.4m0 -3.2v6.4" stroke="#8fb0ea" stroke-width="1.7" fill="none"/>
<path d="M1685.4 141.6h4.4m0 -2.6v5.2" stroke="#f6b4ae" stroke-width="1.5" fill="none"/>
<line x1="1758" y1="135.3" x2="1806" y2="135.3" stroke="#e8a040" stroke-width="2" /><line x1="1772" y1="125.3" x2="1772" y2="145.3" stroke="#d060c0" stroke-width="1.6" /><line x1="1786" y1="125.3" x2="1786" y2="145.3" stroke="#d060c0" stroke-width="1.6" /><circle cx="1772" cy="135.3" r="3.6" fill="#f0c818"/><circle cx="1786" cy="135.3" r="3.6" fill="#f0c818"/><circle cx="1799" cy="135.3" r="2.8" fill="#d82020"/><circle cx="1772" cy="125.3" r="1.9" fill="#d040c0"/><circle cx="1772" cy="145.3" r="1.9" fill="#d040c0"/><circle cx="1786" cy="125.3" r="1.9" fill="#d040c0"/><circle cx="1786" cy="145.3" r="1.9" fill="#d040c0"/><circle cx="1760" cy="135.3" r="1.9" fill="#d040c0"/>
<rect x="1661.8" y="154.2" width="57.9" height="9.4" fill="#6186d2" />
<rect x="1661.8" y="165.6" width="29.3" height="9.4" fill="#f0928c" />
<path d="M1719.7 158.9h7.1m0 -3.2v6.4" stroke="#8fb0ea" stroke-width="1.7" fill="none"/>
<path d="M1691.1 170.3h4.4m0 -2.6v5.2" stroke="#f6b4ae" stroke-width="1.5" fill="none"/>
<line x1="1757" y1="164" x2="1807" y2="164" stroke="#e8a040" stroke-width="2" /><line x1="1769" y1="154" x2="1769" y2="174" stroke="#d060c0" stroke-width="1.6" /><line x1="1797" y1="154" x2="1797" y2="174" stroke="#d060c0" stroke-width="1.6" /><circle cx="1769" cy="164" r="3.6" fill="#f0c818"/><circle cx="1797" cy="164" r="3.6" fill="#f0c818"/><circle cx="1783" cy="164" r="3" fill="#d82020"/><circle cx="1769" cy="154" r="1.9" fill="#d040c0"/><circle cx="1769" cy="174" r="1.9" fill="#d040c0"/><circle cx="1797" cy="154" r="1.9" fill="#d040c0"/><circle cx="1797" cy="174" r="1.9" fill="#d040c0"/><circle cx="1758" cy="164" r="1.9" fill="#d040c0"/><circle cx="1807" cy="164" r="1.9" fill="#d040c0"/>
<rect x="1661.8" y="183" width="61.4" height="9.4" fill="#6186d2" />
<rect x="1661.8" y="194.4" width="28.6" height="9.4" fill="#f0928c" />
<path d="M1723.2 187.7h10.7m0 -3.2v6.4" stroke="#8fb0ea" stroke-width="1.7" fill="none"/>
<path d="M1690.4 199.1h4.4m0 -2.6v5.2" stroke="#f6b4ae" stroke-width="1.5" fill="none"/>
<line x1="1776" y1="192.8" x2="1788" y2="192.8" stroke="#c040b0" stroke-width="3" /><circle cx="1775" cy="192.8" r="5.4" fill="#e040c0"/><circle cx="1789.5" cy="192.8" r="5.4" fill="#e458c8"/>
<rect x="1661.8" y="211.7" width="66.1" height="9.4" fill="#6186d2" />
<rect x="1661.8" y="223.1" width="25.7" height="9.4" fill="#f0928c" />
<path d="M1727.9 216.4h8.9m0 -3.2v6.4" stroke="#8fb0ea" stroke-width="1.7" fill="none"/>
<path d="M1687.5 227.8h4.4m0 -2.6v5.2" stroke="#f6b4ae" stroke-width="1.5" fill="none"/>
<line x1="1782" y1="217.5" x2="1767" y2="227.5" stroke="#b05050" stroke-width="2" /><line x1="1782" y1="217.5" x2="1798" y2="227.5" stroke="#b05050" stroke-width="2" /><circle cx="1767" cy="228" r="3.6" fill="#d01820"/><circle cx="1798" cy="228" r="3.6" fill="#d01820"/><circle cx="1782" cy="217.5" r="5" fill="#58b8c0"/>
<rect x="1661.8" y="240.4" width="71.4" height="9.4" fill="#6186d2" />
<rect x="1661.8" y="251.8" width="25.7" height="9.4" fill="#f0928c" />
<path d="M1733.2 245.1h7.9m0 -3.2v6.4" stroke="#8fb0ea" stroke-width="1.7" fill="none"/>
<path d="M1687.5 256.5h4.4m0 -2.6v5.2" stroke="#f6b4ae" stroke-width="1.5" fill="none"/>
<line x1="1782" y1="245.2" x2="1766" y2="254.2" stroke="#b04060" stroke-width="2" /><line x1="1782" y1="245.2" x2="1799" y2="254.2" stroke="#b04060" stroke-width="2" /><circle cx="1766" cy="254.7" r="3.4" fill="#d01820"/><circle cx="1799" cy="254.7" r="3.4" fill="#d01820"/><circle cx="1782" cy="245.2" r="4.6" fill="#1838d0"/>
<rect x="1661.8" y="269.1" width="205.4" height="9.4" fill="#6186d2" />
<rect x="1661.8" y="280.5" width="25.7" height="9.4" fill="#f0928c" />
<path d="M1867.2 273.8h19.6m0 -3.2v6.4" stroke="#8fb0ea" stroke-width="1.7" fill="none"/>
<path d="M1687.5 285.2h4.4m0 -2.6v5.2" stroke="#f6b4ae" stroke-width="1.5" fill="none"/>
<line x1="1944.6" y1="274.3" x2="1928.6" y2="283.3" stroke="#d868b0" stroke-width="1.8" /><line x1="1944.6" y1="274.3" x2="1961.6" y2="283.3" stroke="#d868b0" stroke-width="1.8" /><circle cx="1944.6" cy="274.3" r="5" fill="#8edcb0"/>
<path d="M1856 133 C1842 176 1856 222 1896 230 C1920 234 1944 226 1957 214 L1951 206 L1985 193 L1978 231 L1970 224 C1948 240 1916 248 1888 238 C1846 222 1834 170 1874 139Z" fill="url(#bigarrow)" opacity=".92"/>
</g>
<rect x="1661.8" y="34.8" width="357.2" height="257.6" fill="none" stroke="#0c0c0c" stroke-width="4"/>
<path d="M1661.8 292.4v7M1733.2 292.4v7M1804.7 292.4v7M1876.1 292.4v7M1947.6 292.4v7M2019 292.4v7M1697.5 292.4v4.5M1769 292.4v4.5M1840.4 292.4v4.5M1911.8 292.4v4.5M1983.3 292.4v4.5M1661.8 63.5h-5M1661.8 92.2h-5M1661.8 121h-5M1661.8 149.7h-5M1661.8 178.4h-5M1661.8 207.1h-5M1661.8 235.8h-5M1661.8 264.6h-5" stroke="#0c0c0c" stroke-width="2.6" fill="none"/>
<text x="1661.8" y="319.8" font-size="21.5" fill="#111" text-anchor="middle" stroke="#111" stroke-width="0.55">0</text>
<text x="1733.2" y="319.8" font-size="21.5" fill="#111" text-anchor="middle" stroke="#111" stroke-width="0.55">2</text>
<text x="1804.7" y="319.8" font-size="21.5" fill="#111" text-anchor="middle" stroke="#111" stroke-width="0.55">4</text>
<text x="1876.1" y="319.8" font-size="21.5" fill="#111" text-anchor="middle" stroke="#111" stroke-width="0.55">6</text>
<text x="1947.6" y="319.8" font-size="21.5" fill="#111" text-anchor="middle" stroke="#111" stroke-width="0.55">8</text>
<text x="2019" y="319.8" font-size="21.5" fill="#111" text-anchor="middle" stroke="#111" stroke-width="0.55">10</text>
<text x="1652" y="57.6" font-size="20.8" fill="#111" text-anchor="end" textLength="167" lengthAdjust="spacingAndGlyphs" stroke="#111" stroke-width="0.55">Formaldehyde</text>
<text x="1647" y="83.3" font-size="20.8" fill="#111" text-anchor="end" textLength="43" lengthAdjust="spacingAndGlyphs" stroke="#111" stroke-width="0.55">NH<tspan font-size="14" baseline-shift="-4.5">3</tspan></text>
<text x="1640" y="114" font-size="20.8" fill="#111" text-anchor="end" textLength="33" lengthAdjust="spacingAndGlyphs" stroke="#111" stroke-width="0.55">CO</text>
<text x="1645" y="142.7" font-size="20.8" fill="#111" text-anchor="end" textLength="80" lengthAdjust="spacingAndGlyphs" stroke="#111" stroke-width="0.55">Ethanol</text>
<text x="1648" y="171.4" font-size="20.8" fill="#111" text-anchor="end" textLength="88" lengthAdjust="spacingAndGlyphs" stroke="#111" stroke-width="0.55">Acetone</text>
<text x="1641" y="198.2" font-size="20.8" fill="#111" text-anchor="end" textLength="24" lengthAdjust="spacingAndGlyphs" stroke="#111" stroke-width="0.55">H<tspan font-size="14" baseline-shift="-4.5">2</tspan></text>
<text x="1646" y="226.9" font-size="20.8" fill="#111" text-anchor="end" textLength="39" lengthAdjust="spacingAndGlyphs" stroke="#111" stroke-width="0.55">SO<tspan font-size="14" baseline-shift="-4.5">2</tspan></text>
<text x="1647" y="255.6" font-size="20.8" fill="#111" text-anchor="end" textLength="43" lengthAdjust="spacingAndGlyphs" stroke="#111" stroke-width="0.55">NO<tspan font-size="14" baseline-shift="-4.5">2</tspan></text>
<text x="1643" y="284.3" font-size="20.8" fill="#111" text-anchor="end" textLength="38" lengthAdjust="spacingAndGlyphs" stroke="#111" stroke-width="0.55">H<tspan font-size="14" baseline-shift="-4.5">2</tspan>S</text>
<text x="1720.6" y="349.8" font-size="24" fill="#111" textLength="238.5" lengthAdjust="spacingAndGlyphs" stroke="#111" stroke-width="0.55">Response(|ΔI/I<tspan font-size="15" baseline-shift="-4">o</tspan>| . %)</text>
<rect x="1814.4" y="42.4" width="44" height="17.6" fill="#f0928c" />
<rect x="1814.4" y="72.4" width="44" height="17.6" fill="#6388d2" />
<text x="1865.6" y="57.2" font-size="18" fill="#222" textLength="143" lengthAdjust="spacingAndGlyphs" stroke="#222" stroke-width="0.55">Pristine Ti<tspan font-size="12" baseline-shift="-3.5">3</tspan>C<tspan font-size="12" baseline-shift="-3.5">2</tspan>T<tspan font-size="12" baseline-shift="-3.5">x</tspan></text>
<text x="1865.6" y="88.2" font-size="18" fill="#222" textLength="112" lengthAdjust="spacingAndGlyphs" stroke="#222" stroke-width="0.55">Ag2-Ti<tspan font-size="12" baseline-shift="-3.5">3</tspan>C<tspan font-size="12" baseline-shift="-3.5">2</tspan>T<tspan font-size="12" baseline-shift="-3.5">x</tspan></text>
</g>
<g id="b_selfcal">
<text x="1473" y="375.8" font-size="24.5" fill="#111" textLength="211" lengthAdjust="spacingAndGlyphs" stroke="#111" stroke-width="0.55">Self-calibration</text>
<g filter="url(#soft3)">
<path d="M1685.6 463.8 Q1811.5 443.4 1943.8 421.3" fill="none" stroke="#f3a6a2" stroke-width="2.6" stroke-linecap="round"/>
<text x="1953" y="426.4" font-size="17.5" fill="#f3a6a2" font-weight="normal" textLength="36" lengthAdjust="spacingAndGlyphs" opacity="0.95">80%</text>
<path d="M1685.6 494.4 Q1811.5 478 1943.8 459.1" fill="none" stroke="#7fa2e2" stroke-width="2.6" stroke-linecap="round"/>
<text x="1953" y="464" font-size="17.5" fill="#7fa2e2" font-weight="normal" textLength="36" lengthAdjust="spacingAndGlyphs" opacity="0.95">60%</text>
<path d="M1685.6 523.6 Q1811.5 512 1943.8 497.8" fill="none" stroke="#86b43c" stroke-width="2.6" stroke-linecap="round"/>
<text x="1953" y="500.4" font-size="17.5" fill="#86b43c" font-weight="normal" textLength="36" lengthAdjust="spacingAndGlyphs" opacity="0.95">40%</text>
<path d="M1685.6 548.2 Q1811.5 537.2 1943.8 525.2" fill="none" stroke="#c394f0" stroke-width="2.6" stroke-linecap="round"/>
<text x="1953" y="530.4" font-size="17.5" fill="#c394f0" font-weight="normal" textLength="36" lengthAdjust="spacingAndGlyphs" opacity="0.95">20%</text>
<path d="M1685.6 581.3 Q1811.5 555.1 1943.8 534" fill="none" stroke="#f4d266" stroke-width="2.6" stroke-linecap="round"/>
<text x="1958" y="544.6" font-size="17.5" fill="#f4d266" font-weight="normal" textLength="24" lengthAdjust="spacingAndGlyphs" opacity="0.95">5%</text>
</g>
<text x="1954.6" y="575.8" font-size="16.5" fill="#222" textLength="28" lengthAdjust="spacingAndGlyphs" stroke="#222" stroke-width="0.55">RH</text>
<path d="M1673 599.2V404M1671.4 597.6H1996" stroke="#0c0c0c" stroke-width="3.2" fill="none"/>
<polygon points="1673,389.6 1665.4,407 1680.6,407" fill="#0c0c0c" />
<polygon points="2010.4,597.6 1991,590.6 1991,604.6" fill="#0c0c0c" />
<text x="1647.6" y="493.6" font-size="22.5" fill="#111" text-anchor="middle" textLength="102" lengthAdjust="spacingAndGlyphs" transform="rotate(-90 1647.6 493.6)" stroke="#111" stroke-width="0.55">Response</text>
<text x="1729.6" y="627.6" font-size="24.5" fill="#111" textLength="220.6" lengthAdjust="spacingAndGlyphs" stroke="#111" stroke-width="0.55">Gas concentration</text>
<path d="M1675 509.2H1806.7M1814.7 516.8V595.6" stroke="#e02020" stroke-width="2.8" stroke-dasharray="2.6 2.6" fill="none"/>
<polygon points="1740,509.2 1729,504.2 1729,514.2" fill="#e02020" />
<polygon points="1814.7,560.4 1810.1,550 1819.3,550" fill="#e02020" />
<circle cx="1674.4" cy="509.2" r="4.6" fill="#e02020" />
<circle cx="1814.7" cy="597" r="4.6" fill="#e02020" />
<polygon points="1814.7,496.2 1818,505.3 1827.6,505.6 1820,511.6 1822.7,520.8 1814.7,515.4 1806.7,520.8 1809.4,511.6 1801.8,505.6 1811.4,505.3" fill="#e02020" />
<path d="M1857.2 394.5 C1879.2 393.5 1889.2 406.5 1908.3 407.5" stroke="#e02020" stroke-width="2.6" stroke-dasharray="2.4 2.4" fill="none"/>
<polygon points="1919.2,408.7 1909.1,404.3 1909.1,412.5" fill="#e02020" />
<path d="M1927.4 430.1 C1885.4 436.1 1897.4 460.1 1889.4 470.1 S1887.1 480.3 1865.1 484.3" stroke="#e02020" stroke-width="2.6" stroke-dasharray="2.4 2.4" fill="none"/>
<polygon points="1857.2,484.9 1867.6,481.1 1867,488.4" fill="#e02020" />
<text x="1832" y="404.5" font-size="31.5" fill="#e02020" font-weight="normal" text-anchor="middle" font-family='"DejaVu Sans", "Liberation Sans", sans-serif' stroke="#e02020" stroke-width=".35">①</text>
<text x="1934.3" y="419.3" font-size="31.5" fill="#e02020" font-weight="normal" text-anchor="middle" font-family='"DejaVu Sans", "Liberation Sans", sans-serif' stroke="#e02020" stroke-width=".35">②</text>
<text x="1839.9" y="499.6" font-size="31.5" fill="#e02020" font-weight="normal" text-anchor="middle" font-family='"DejaVu Sans", "Liberation Sans", sans-serif' stroke="#e02020" stroke-width=".35">③</text>
<text x="1835.2" y="584.6" font-size="31.5" fill="#e02020" font-weight="normal" text-anchor="middle" font-family='"DejaVu Sans", "Liberation Sans", sans-serif' stroke="#e02020" stroke-width=".35">④</text>
</g>
<g id="b_charts">
<rect x="1102" y="654.8" width="415.8" height="291.6" fill="#fff" />
<rect x="1111.3" y="654.8" width="43.3" height="291.6" fill="#fde9e7" />
<rect x="1191.8" y="654.8" width="43.9" height="291.6" fill="#fde9e7" />
<rect x="1273.4" y="654.8" width="44.8" height="291.6" fill="#fde9e7" />
<rect x="1353.9" y="654.8" width="45.1" height="291.6" fill="#fde9e7" />
<rect x="1437.1" y="654.8" width="44.3" height="291.6" fill="#fde9e7" />
<polyline points="1102,697 1110.3,696.9 1111.5,716.4 1112.6,739.3 1114.5,736.4 1118.3,734.5 1133.6,732.6 1154.6,730.7 1158.4,726.8 1166.1,718.3 1177.5,714.1 1190.9,709.7 1192,718.3 1193.2,724 1198.5,728.2 1215.7,728.4 1235.7,728.2 1237.1,718.3 1238.6,706.8 1242,702.2 1246.2,700.1 1257.7,697.6 1272,696.3 1273,716.4 1274.1,735.4 1275.3,745.9 1277.6,749.9 1298.2,750.3 1317.3,748.8 1318.4,735.4 1320.1,716.4 1323,704.9 1326.8,699.2 1336.4,693.8 1353.5,690.6 1354.1,725.9 1355.1,773.6 1357,792.7 1361.2,800.3 1372.6,802.2 1382.2,801.3 1398.4,796.5 1399.7,764.1 1402.2,735.4 1405.1,704.9 1408.9,687.7 1414.6,681 1422.2,677.2 1435.6,675.3 1436.2,725.9 1437.1,792.7 1438.7,811.8 1441.3,819.4 1450.9,823.2 1460.4,821 1470,817.5 1481.4,811.8 1482.6,773.6 1486.2,716.4 1489.1,697.3 1492.9,685.8 1498.6,678.2 1504.3,674.4 1516.7,669.6" fill="none" stroke="#0a0a0a" stroke-width="2.2" stroke-linejoin="round" stroke-linecap="round" />
<text x="1117.4" y="681.2" font-size="20" fill="#111" textLength="29.6" lengthAdjust="spacingAndGlyphs" stroke="#111" stroke-width="0.55">5%</text>
<text x="1118.3" y="711.6" font-size="20.5" fill="#111" textLength="28.7" lengthAdjust="spacingAndGlyphs" stroke="#111" stroke-width="0.55">RH</text>
<text x="1192.8" y="681.2" font-size="20" fill="#111" textLength="42" lengthAdjust="spacingAndGlyphs" stroke="#111" stroke-width="0.55">20%</text>
<text x="1198.5" y="711.6" font-size="20.5" fill="#111" textLength="29.5" lengthAdjust="spacingAndGlyphs" stroke="#111" stroke-width="0.55">RH</text>
<text x="1275.3" y="681.2" font-size="20" fill="#111" textLength="41" lengthAdjust="spacingAndGlyphs" stroke="#111" stroke-width="0.55">40%</text>
<text x="1280" y="711.6" font-size="20.5" fill="#111" textLength="29.5" lengthAdjust="spacingAndGlyphs" stroke="#111" stroke-width="0.55">RH</text>
<text x="1356.4" y="681.2" font-size="20" fill="#111" textLength="41" lengthAdjust="spacingAndGlyphs" stroke="#111" stroke-width="0.55">60%</text>
<text x="1362" y="711.6" font-size="20.5" fill="#111" textLength="29.5" lengthAdjust="spacingAndGlyphs" stroke="#111" stroke-width="0.55">RH</text>
<text x="1437.5" y="681.2" font-size="20" fill="#111" textLength="42" lengthAdjust="spacingAndGlyphs" stroke="#111" stroke-width="0.55">80%</text>
<text x="1444" y="711.6" font-size="20.5" fill="#111" textLength="29.5" lengthAdjust="spacingAndGlyphs" stroke="#111" stroke-width="0.55">RH</text>
<text x="1358.4" y="918.8" font-size="21" fill="#fb8b86" font-weight="normal" textLength="37" lengthAdjust="spacingAndGlyphs" stroke="#fb8b86" stroke-width=".5">H<tspan font-size="13" baseline-shift="-4.5">2</tspan>S</text>
<text x="1402.2" y="918.8" font-size="21" fill="#0a7d16" textLength="29.6" lengthAdjust="spacingAndGlyphs" stroke="#0a7d16" stroke-width="0.55">Air</text>
<text x="1441.4" y="918.8" font-size="21" fill="#fb8b86" font-weight="normal" textLength="35.4" lengthAdjust="spacingAndGlyphs" stroke="#fb8b86" stroke-width=".5">H<tspan font-size="13" baseline-shift="-4.5">2</tspan>S</text>
<text x="1482.4" y="918.8" font-size="21" fill="#0a7d16" textLength="30.4" lengthAdjust="spacingAndGlyphs" stroke="#0a7d16" stroke-width="0.55">Air</text>
<rect x="1102" y="654.8" width="415.8" height="291.6" fill="none" stroke="#0a0a0a" stroke-width="3"/>
<path d="M1102 697h-13M1102 780.2h-13M1102 863.4h-13M1102 946.6h-13M1102 738.6h-8M1102 821.8h-8M1102 905h-8M1102 946.4v13M1177 946.4v13M1252.1 946.4v13M1327.2 946.4v13M1402.2 946.4v13M1477.2 946.4v13M1139.5 946.4v7M1214.5 946.4v7M1289.6 946.4v7M1364.7 946.4v7M1439.7 946.4v7M1514.8 946.4v7" stroke="#0a0a0a" stroke-width="2.8" fill="none"/>
<text x="1078.4" y="700.6" font-size="20.5" fill="#111" text-anchor="end" stroke="#111" stroke-width="0.55">0</text>
<text x="1078.4" y="783.8" font-size="20.5" fill="#111" text-anchor="end" stroke="#111" stroke-width="0.55">-20</text>
<text x="1078.4" y="867" font-size="20.5" fill="#111" text-anchor="end" stroke="#111" stroke-width="0.55">-40</text>
<text x="1078.4" y="950.2" font-size="20.5" fill="#111" text-anchor="end" stroke="#111" stroke-width="0.55">-60</text>
<text x="1101.4" y="983.8" font-size="19.5" fill="#111" text-anchor="middle" stroke="#111" stroke-width="0.55">0</text>
<text x="1176.5" y="983.8" font-size="19.5" fill="#111" text-anchor="middle" stroke="#111" stroke-width="0.55">500</text>
<text x="1251.5" y="983.8" font-size="19.5" fill="#111" text-anchor="middle" stroke="#111" stroke-width="0.55">1000</text>
<text x="1326.6" y="983.8" font-size="19.5" fill="#111" text-anchor="middle" stroke="#111" stroke-width="0.55">1500</text>
<text x="1401.6" y="983.8" font-size="19.5" fill="#111" text-anchor="middle" stroke="#111" stroke-width="0.55">2000</text>
<text x="1476.7" y="983.8" font-size="19.5" fill="#111" text-anchor="middle" stroke="#111" stroke-width="0.55">2500</text>
<text x="1308.2" y="1020" font-size="22.5" fill="#111" text-anchor="middle" textLength="85" lengthAdjust="spacingAndGlyphs" stroke="#111" stroke-width="0.55">Time (s)</text>
<text x="1029.6" y="790.2" font-size="22" fill="#111" text-anchor="middle" textLength="208" lengthAdjust="spacingAndGlyphs" transform="rotate(-90 1029.6 790.2)" stroke="#111" stroke-width="0.55">Response (<tspan font-style="italic">ΔI/I</tspan><tspan font-size="13" baseline-shift="-4">0</tspan> , %)</text>
<rect x="1191.8" y="762.2" width="43.9" height="124.6" fill="#fde9e7" opacity=".0"/>
<rect x="1273.4" y="762.2" width="44.8" height="124.6" fill="#fde9e7" opacity=".0"/>
<rect x="1172.8" y="762.2" width="165.2" height="124.6" fill="none" stroke="#0a0a0a" stroke-width="2.4"/>
<path d="M1182.3 862.8 Q1198 861.5 1211 858.6 Q1232 852 1250 843.7 Q1271 834 1288.6 823.2 Q1312 806 1327.8 784.1" fill="none" stroke="#0a0a0a" stroke-width="2.4" stroke-dasharray="8 6"/>
<circle cx="1182.3" cy="862.8" r="4.5" fill="#0a0a0a" />
<circle cx="1211" cy="858.6" r="4.5" fill="#0a0a0a" />
<circle cx="1250" cy="843.7" r="4.5" fill="#0a0a0a" />
<circle cx="1288.6" cy="823.2" r="4.5" fill="#0a0a0a" />
<circle cx="1327.8" cy="784.1" r="4.5" fill="#0a0a0a" />
<path d="M1172.8 886.8h-7.5M1172.8 836.8h-7.5M1172.8 786.8h-7.5M1172.8 861.8h-4.5M1172.8 811.8h-4.5M1172.8 886.8v7M1211.3 886.8v7M1249.8 886.8v7M1288.3 886.8v7M1326.8 886.8v7M1192 886.8v4M1230.5 886.8v4M1269 886.8v4M1307.5 886.8v4" stroke="#0a0a0a" stroke-width="2" fill="none"/>
<text x="1159" y="892.2" font-size="15" fill="#111" text-anchor="end" stroke="#111" stroke-width="0.55">0</text>
<text x="1159" y="842.2" font-size="15" fill="#111" text-anchor="end" stroke="#111" stroke-width="0.55">20</text>
<text x="1159" y="792.2" font-size="15" fill="#111" text-anchor="end" stroke="#111" stroke-width="0.55">40</text>
<text x="1171.8" y="913.2" font-size="15.5" fill="#111" text-anchor="middle" stroke="#111" stroke-width="0.55">0</text>
<text x="1210.3" y="913.2" font-size="15.5" fill="#111" text-anchor="middle" stroke="#111" stroke-width="0.55">20</text>
<text x="1248.8" y="913.2" font-size="15.5" fill="#111" text-anchor="middle" stroke="#111" stroke-width="0.55">40</text>
<text x="1287.3" y="913.2" font-size="15.5" fill="#111" text-anchor="middle" stroke="#111" stroke-width="0.55">60</text>
<text x="1325.8" y="913.2" font-size="15.5" fill="#111" text-anchor="middle" stroke="#111" stroke-width="0.55">80</text>
<text x="1164" y="940" font-size="16.5" fill="#111" textLength="180" lengthAdjust="spacingAndGlyphs" stroke="#111" stroke-width="0.55">Relative humidity (%)</text>
<text x="1184.2" y="790.6" font-size="13.6" fill="#111" textLength="86.5" lengthAdjust="spacingAndGlyphs" stroke="#111" stroke-width="0.55">Ag2-Ti<tspan font-size="10" baseline-shift="-3">3</tspan>C<tspan font-size="10" baseline-shift="-3">2</tspan>T<tspan font-size="10" baseline-shift="-3">x</tspan></text>
<text x="1132.6" y="828" font-size="15.6" fill="#111" text-anchor="middle" textLength="160" lengthAdjust="spacingAndGlyphs" transform="rotate(-90 1132.6 828)" stroke="#111" stroke-width="0.55">Response (|<tspan font-style="italic">ΔI/I</tspan><tspan font-size="9" baseline-shift="-3">0</tspan>|.%)</text>
<rect x="1624.5" y="654.6" width="417.5" height="291" fill="#fff" />
<rect x="1636" y="654.6" width="51.5" height="291" fill="#fde9e7" />
<rect x="1739" y="654.6" width="53" height="291" fill="#fde9e7" />
<rect x="1843.4" y="654.6" width="52.6" height="291" fill="#fde9e7" />
<rect x="1947.9" y="654.6" width="52.1" height="291" fill="#fde9e7" />
<polyline points="1624.5,721.7 1628.5,721.7 1636,721.7" fill="none" stroke="#f7c752" stroke-width="2" stroke-linejoin="round" stroke-linecap="round" />
<polyline points="1636,721.8 1639.2,722.1 1642.5,722.3 1645.8,722.5 1649,722.5 1652.2,722.7 1655.5,722.3 1658.8,722.5 1662,722.8 1666.2,722.7 1670.5,722.9 1674.8,722.6 1679,722.9 1683.2,722.8 1687.5,723" fill="none" stroke="#f7c752" stroke-width="2.6" stroke-linejoin="round" stroke-linecap="round" />
<polyline points="1688,723 1689.1,722.7 1690.2,722.4 1691.2,721.9 1692.3,721.6 1693.4,721.6 1694.5,721.4 1695.5,721.5 1696.6,721.3 1697.7,721.2 1698.8,721.1 1699.8,721.1 1700.9,720.9 1702,720.9 1703,720.8 1704.1,721.1 1705.2,720.7 1706.3,721 1707.3,720.7 1708.4,720.9 1709.5,720.8 1710.6,720.8 1711.7,721 1712.7,720.6 1713.8,720.6 1714.9,721 1716,720.8 1717,720.7 1718.1,721 1719.2,721 1720.2,720.7 1721.3,720.8 1722.4,720.7 1723.5,720.7 1724.5,720.9 1725.6,720.7 1726.7,720.9 1727.8,720.6 1728.8,720.7 1729.9,720.9 1731,720.8" fill="none" stroke="#f7c752" stroke-width="2.2" stroke-linejoin="round" stroke-linecap="round" />
<polyline points="1731,720.8 1731.6,721.7 1739,721.7" fill="none" stroke="#f7c752" stroke-width="2" stroke-linejoin="round" stroke-linecap="round" />
<polyline points="1739,721.8 1742.2,722.7 1745.5,723.1 1748.8,723.4 1752,723.5 1755.2,724 1758.5,724.1 1761.8,724.3 1765,724.2 1769.5,724.8 1774,725.1 1778.5,725.8 1783,726.2 1787.5,726.5 1792,727.1" fill="none" stroke="#f7c752" stroke-width="2.6" stroke-linejoin="round" stroke-linecap="round" />
<polyline points="1792.5,727 1793.6,726.2 1794.7,725.4 1795.8,724.8 1796.8,724 1797.9,723.6 1799,723.2 1800.1,722.9 1801.2,722.9 1802.3,722.4 1803.4,722.4 1804.5,722.2 1805.5,722.1 1806.6,722.1 1807.7,722.2 1808.8,722 1809.9,721.7 1811,721.8 1812.1,721.7 1813.2,722 1814.2,721.9 1815.3,721.9 1816.4,721.9 1817.5,721.9 1818.6,721.9 1819.7,721.9 1820.8,721.6 1821.9,721.9 1823,721.7 1824,721.8 1825.1,721.7 1826.2,721.7 1827.3,721.7 1828.4,721.7 1829.5,721.6 1830.6,721.6 1831.7,721.8 1832.7,721.8 1833.8,721.9 1834.9,721.8 1836,721.7" fill="none" stroke="#f7c752" stroke-width="2.2" stroke-linejoin="round" stroke-linecap="round" />
<polyline points="1836,721.7 1836.6,721.7 1843.4,721.7" fill="none" stroke="#f7c752" stroke-width="2" stroke-linejoin="round" stroke-linecap="round" />
<polyline points="1843.4,721.6 1846.7,725.7 1849.9,729 1853.2,731 1856.4,732.9 1859.7,734 1862.9,734.7 1866.2,735.6 1869.4,735.8 1873.2,737.3 1877,738.5 1880.8,739.8 1884.6,741.3 1888.4,742.9 1892.2,743.8 1896,745.4" fill="none" stroke="#f7c752" stroke-width="2.6" stroke-linejoin="round" stroke-linecap="round" />
<polyline points="1896.5,745.2 1897.6,742.5 1898.7,739.8 1899.8,737.6 1901,735.3 1902.1,733.4 1903.2,732 1904.3,730.6 1905.4,729.2 1906.5,728.3 1907.6,727.2 1908.7,726.5 1909.8,725.4 1911,724.8 1912.1,724.5 1913.2,723.8 1914.3,723.3 1915.4,723.1 1916.5,722.6 1917.6,722.1 1918.8,722 1919.9,721.8 1921,721.4 1922.1,721.4 1923.2,721 1924.3,721 1925.4,720.7 1926.5,720.7 1927.7,720.9 1928.8,720.6 1929.9,720.7 1931,720.4 1932.1,720.4 1933.2,720.5 1934.3,720.4 1935.4,720.1 1936.5,720.2 1937.7,720.2 1938.8,720 1939.9,719.9 1941,720.1" fill="none" stroke="#f7c752" stroke-width="2.2" stroke-linejoin="round" stroke-linecap="round" />
<polyline points="1941,719.9 1941.6,721.7 1947.9,721.7" fill="none" stroke="#f7c752" stroke-width="2" stroke-linejoin="round" stroke-linecap="round" />
<polyline points="1947.9,721.6 1948.4,726.4 1948.8,730.5 1949.3,735.2 1949.8,739.4 1950.2,744 1950.7,748.8 1951.2,752.9 1952.8,758.2 1954.4,763.2 1957.7,766.5 1960.9,767.6 1964.2,767.8 1967.4,768.2 1970.7,767.9 1973.9,768 1978.2,766.3 1982.6,764.9 1987,763.4 1991.3,762.1 1995.7,760.3 2000,758.8" fill="none" stroke="#f7c752" stroke-width="2" stroke-linejoin="round" stroke-linecap="round" />
<polyline points="2000.5,758.9 2001.5,757.6 2002.6,757 2003.6,755.9 2004.7,755.5 2005.7,754.3 2006.7,753.9 2007.8,753.1 2008.8,752.4 2009.8,751.8 2010.9,750.9 2011.9,750.3 2013,749.8 2014,749.1 2015,748.5 2016.1,748 2017.1,747.7 2018.1,747.2 2019.2,746.7 2020.2,746.1 2021.2,745.9 2022.3,745.3 2023.3,744.8 2024.4,744.5 2025.4,744.1 2026.4,743.6 2027.5,743.5 2028.5,743.1 2029.5,742.8 2030.6,742.7 2031.6,742.3 2032.7,741.9 2033.7,741.8 2034.7,741.6 2035.8,741.2 2036.8,741.1 2037.8,740.5 2038.9,740.3 2039.9,740.1 2041,740.2 2042,739.9" fill="none" stroke="#f7c752" stroke-width="2.2" stroke-linejoin="round" stroke-linecap="round" />
<polyline points="1624.5,721.7 1628.5,721.7 1636,721.7" fill="none" stroke="#c184f2" stroke-width="2" stroke-linejoin="round" stroke-linecap="round" />
<polyline points="1636,721.7 1636.8,738.3 1638,747.7" fill="none" stroke="#c184f2" stroke-width="1.1" stroke-linejoin="round" stroke-linecap="round" opacity=".55"/>
<polyline points="1638,748 1642.1,748.9 1646.2,749.9 1650.4,750.7 1654.5,751 1658.6,751.8 1662.8,752.4 1666.9,752.8 1671,752.9 1675.1,753 1679.2,753.4 1683.4,753.9 1687.5,753.8" fill="none" stroke="#c184f2" stroke-width="2.9" stroke-linejoin="round" stroke-linecap="round" />
<polyline points="1688,754.8 1689.1,746.9 1690.2,740.9 1691.2,736.1 1692.3,732.5 1693.4,730.2 1694.5,728 1695.5,726.5 1696.6,725.5 1697.7,724.4 1698.8,724 1699.8,723.3 1700.9,722.7 1702,722.8 1703,722.4 1704.1,722.1 1705.2,722.2 1706.3,722.1 1707.3,722 1708.4,721.9 1709.5,722 1710.6,721.6 1711.7,722 1712.7,721.8 1713.8,721.6 1714.9,721.8 1716,721.7 1717,721.8 1718.1,721.8 1719.2,721.7 1720.2,721.5 1721.3,721.7 1722.4,721.6 1723.5,721.8 1724.5,721.9 1725.6,721.8 1726.7,721.7 1727.8,721.6 1728.8,721.8 1729.9,721.6 1731,721.7" fill="none" stroke="#c184f2" stroke-width="2.2" stroke-linejoin="round" stroke-linecap="round" />
<polyline points="1731,721.7 1731.6,721.7 1739,721.7" fill="none" stroke="#c184f2" stroke-width="2" stroke-linejoin="round" stroke-linecap="round" />
<polyline points="1739,721.7 1739.8,739.9 1741,750.2" fill="none" stroke="#c184f2" stroke-width="1.1" stroke-linejoin="round" stroke-linecap="round" opacity=".55"/>
<polyline points="1741,750 1745.2,751.3 1749.5,752.1 1753.8,752.7 1758,753.1 1762.2,754 1766.5,754.4 1770.8,754.6 1775,754.9 1779.2,755 1783.5,755 1787.8,755.4 1792,755.7" fill="none" stroke="#c184f2" stroke-width="2.9" stroke-linejoin="round" stroke-linecap="round" />
<polyline points="1792.5,756.4 1793.6,748 1794.7,741.8 1795.8,736.8 1796.8,733.1 1797.9,730.5 1799,728.4 1800.1,726.7 1801.2,725.5 1802.3,724.8 1803.4,723.8 1804.5,723.3 1805.5,722.8 1806.6,722.6 1807.7,722.3 1808.8,722.5 1809.9,722.1 1811,722.2 1812.1,721.8 1813.2,722 1814.2,721.8 1815.3,721.9 1816.4,721.8 1817.5,721.7 1818.6,721.6 1819.7,721.8 1820.8,721.6 1821.9,721.5 1823,721.8 1824,721.8 1825.1,721.6 1826.2,721.7 1827.3,721.9 1828.4,721.6 1829.5,721.6 1830.6,721.7 1831.7,721.6 1832.7,721.6 1833.8,721.5 1834.9,721.8 1836,721.7" fill="none" stroke="#c184f2" stroke-width="2.2" stroke-linejoin="round" stroke-linecap="round" />
<polyline points="1836,721.7 1836.6,721.7 1843.4,721.7" fill="none" stroke="#c184f2" stroke-width="2" stroke-linejoin="round" stroke-linecap="round" />
<polyline points="1843.4,721.7 1844.2,743.7 1845.4,756.1" fill="none" stroke="#c184f2" stroke-width="1.1" stroke-linejoin="round" stroke-linecap="round" opacity=".55"/>
<polyline points="1845.4,756.4 1849.6,757.3 1853.8,758.5 1858.1,760.1 1862.3,760.5 1866.5,761.2 1870.7,762.1 1874.9,762.5 1879.1,763.2 1883.3,763.2 1887.6,764 1891.8,763.9 1896,764.2" fill="none" stroke="#c184f2" stroke-width="2.9" stroke-linejoin="round" stroke-linecap="round" />
<polyline points="1896.5,765.5 1897.1,760 1897.6,754.9 1898.7,746.5 1899.8,740.4 1901,735.6 1902.1,732.1 1903.2,729.6 1904.3,727.2 1905.4,725.7 1906.5,724.5 1907.6,723.6 1908.7,723.2 1909.8,722.4 1911,722.1 1912.1,721.7 1913.2,721.6 1914.3,721.3 1915.4,721.1 1916.5,721.1 1917.6,721 1918.8,721.1 1919.9,721 1921,720.8 1922.1,721 1923.2,720.8 1924.3,720.9 1925.4,720.7 1926.5,720.8 1927.7,720.9 1928.8,720.8 1929.9,720.9 1931,720.9 1932.1,720.8 1933.2,720.9 1934.3,720.8 1935.4,720.9 1936.5,720.9 1937.7,720.6 1938.8,721 1939.9,720.8 1941,720.8" fill="none" stroke="#c184f2" stroke-width="2.2" stroke-linejoin="round" stroke-linecap="round" />
<polyline points="1941,720.8 1941.6,721.7 1947.9,721.7" fill="none" stroke="#c184f2" stroke-width="2" stroke-linejoin="round" stroke-linecap="round" />
<polyline points="1947.9,721.7 1948.7,752.8 1949.9,770.4" fill="none" stroke="#c184f2" stroke-width="1.1" stroke-linejoin="round" stroke-linecap="round" opacity=".55"/>
<polyline points="1949.9,770.1 1953.9,773 1957.9,773.5 1961.9,773.5 1965.9,774.5 1969.9,775.1 1974,775.8 1978,775.8 1982,776.1 1986,776.5 1990,776.6 1994,777 2000,776.5" fill="none" stroke="#c184f2" stroke-width="2.1" stroke-linejoin="round" stroke-linecap="round" />
<polyline points="2000.5,777.1 2001.5,770.4 2002.6,764.4 2003.6,759.5 2004.7,754.8 2005.7,750.8 2006.7,747.3 2007.8,744.3 2008.8,741.7 2009.8,739.1 2010.9,737.1 2011.9,735.2 2013,733.3 2014,731.7 2015,730.4 2016.1,729.6 2017.1,728.5 2018.1,727.7 2019.2,726.9 2020.2,726.1 2021.2,725.4 2022.3,724.7 2023.3,724.2 2024.4,724.1 2025.4,723.7 2026.4,723.4 2027.5,723 2028.5,722.8 2029.5,722.6 2030.6,722.5 2031.6,722 2032.7,722 2033.7,721.8 2034.7,721.8 2035.8,721.8 2036.8,721.4 2037.8,721.3 2038.9,721.3 2039.9,721.2 2041,721.3 2042,721.2" fill="none" stroke="#c184f2" stroke-width="2.2" stroke-linejoin="round" stroke-linecap="round" />
<polyline points="1624.5,721.7 1628.5,721.7 1636,721.7" fill="none" stroke="#66a322" stroke-width="2" stroke-linejoin="round" stroke-linecap="round" />
<polyline points="1636,721.7 1636.8,749 1638,764.5" fill="none" stroke="#66a322" stroke-width="1.1" stroke-linejoin="round" stroke-linecap="round" opacity=".55"/>
<polyline points="1638,764.5 1642.1,766.5 1646.2,767.5 1650.4,769 1654.5,770.5 1658.6,771.2 1662.8,771.7 1666.9,772.5 1671,773.3 1675.1,773.5 1679.2,773.7 1683.4,774.5 1687.5,774.6" fill="none" stroke="#66a322" stroke-width="2.9" stroke-linejoin="round" stroke-linecap="round" />
<polyline points="1688,776.1 1688.5,769.9 1689.1,763.7 1690.2,754 1691.2,746.5 1692.3,740.6 1693.4,735.8 1694.5,732.4 1695.5,729.5 1696.6,727.4 1697.7,725.7 1698.8,724.7 1699.8,723.5 1700.9,722.7 1702,722.3 1703,721.8 1704.1,721.3 1705.2,720.8 1706.3,720.7 1707.3,720.5 1708.4,720.6 1709.5,720.1 1710.6,720.2 1711.7,720.2 1712.7,720.1 1713.8,720.1 1714.9,720.1 1716,719.9 1717,720.1 1718.1,720.1 1719.2,719.8 1720.2,719.9 1721.3,719.9 1722.4,719.9 1723.5,719.9 1724.5,719.8 1725.6,720 1726.7,720.1 1727.8,720.1 1728.8,720.1 1729.9,719.8 1731,719.9" fill="none" stroke="#66a322" stroke-width="2.2" stroke-linejoin="round" stroke-linecap="round" />
<polyline points="1731,719.9 1731.6,721.7 1739,721.7" fill="none" stroke="#66a322" stroke-width="2" stroke-linejoin="round" stroke-linecap="round" />
<polyline points="1739,721.7 1739.8,751.7 1741,768.7" fill="none" stroke="#66a322" stroke-width="1.1" stroke-linejoin="round" stroke-linecap="round" opacity=".55"/>
<polyline points="1741,768.6 1745.2,770.2 1749.5,771.6 1753.8,773.3 1758,774.1 1762.2,775.1 1766.5,775.7 1770.8,776.2 1775,777 1779.2,777.3 1783.5,777.8 1787.8,778.1 1792,778.3" fill="none" stroke="#66a322" stroke-width="2.9" stroke-linejoin="round" stroke-linecap="round" />
<polyline points="1792.5,779.8 1793,773.1 1793.6,766.8 1794.1,761.6 1794.7,756.7 1795.8,748.5 1796.8,742.6 1797.9,737.6 1799,734.1 1800.1,731.2 1801.2,728.6 1802.3,727.1 1803.4,725.5 1804.5,724.6 1805.5,723.9 1806.6,723 1807.7,722.5 1808.8,722 1809.9,721.7 1811,721.6 1812.1,721.3 1813.2,721.2 1814.2,721.3 1815.3,721 1816.4,721 1817.5,720.9 1818.6,721.1 1819.7,720.8 1820.8,721 1821.9,721.1 1823,720.9 1824,720.8 1825.1,720.7 1826.2,720.9 1827.3,720.7 1828.4,720.8 1829.5,720.9 1830.6,720.9 1831.7,720.7 1832.7,720.8 1833.8,720.7 1834.9,720.7 1836,720.8" fill="none" stroke="#66a322" stroke-width="2.2" stroke-linejoin="round" stroke-linecap="round" />
<polyline points="1836,720.8 1836.6,721.7 1843.4,721.7" fill="none" stroke="#66a322" stroke-width="2" stroke-linejoin="round" stroke-linecap="round" />
<polyline points="1843.4,721.7 1844.2,758.1 1845.4,778.8" fill="none" stroke="#66a322" stroke-width="1.1" stroke-linejoin="round" stroke-linecap="round" opacity=".55"/>
<polyline points="1845.4,778.9 1849.6,780.3 1853.8,782 1858.1,783.2 1862.3,784.6 1866.5,785.5 1870.7,786.4 1874.9,786.6 1879.1,787.3 1883.3,787.6 1887.6,788.1 1891.8,788.6 1896,788.9" fill="none" stroke="#66a322" stroke-width="2.9" stroke-linejoin="round" stroke-linecap="round" />
<polyline points="1896.5,790.3 1896.9,785.2 1897.2,779.8 1897.6,774.8 1898.2,768.5 1898.7,762.2 1899.8,752.6 1901,745.4 1902.1,739.4 1903.2,735.1 1904.3,731.5 1905.4,728.7 1906.5,726.7 1907.6,724.9 1908.7,723.6 1909.8,722.5 1911,721.7 1912.1,721 1913.2,720.7 1914.3,720.3 1915.4,720.1 1916.5,719.7 1917.6,719.6 1918.8,719.7 1919.9,719.4 1921,719.4 1922.1,719.3 1923.2,719.4 1924.3,719 1925.4,719.2 1926.5,718.9 1927.7,719 1928.8,719.1 1929.9,719 1931,719 1932.1,718.9 1933.2,718.9 1934.3,719 1935.4,719.1 1936.5,719.1 1937.7,719 1938.8,719 1939.9,719.2 1941,719" fill="none" stroke="#66a322" stroke-width="2.2" stroke-linejoin="round" stroke-linecap="round" />
<polyline points="1941,719 1941.6,721.7 1947.9,721.7" fill="none" stroke="#66a322" stroke-width="2" stroke-linejoin="round" stroke-linecap="round" />
<polyline points="1947.9,721.7 1948.7,768.3 1949.9,794.7" fill="none" stroke="#66a322" stroke-width="1.1" stroke-linejoin="round" stroke-linecap="round" opacity=".55"/>
<polyline points="1949.9,793.7 1953.9,798.3 1957.9,798.8 1961.9,799.8 1965.9,800 1969.9,800.2 1974,800.1 1978,800 1982,799.6 1986,799.7 1990,799.5 1994,799.6 2000,798.6" fill="none" stroke="#66a322" stroke-width="2.1" stroke-linejoin="round" stroke-linecap="round" />
<polyline points="2000.5,799.4 2001,794.2 2001.5,789.3 2002.6,780.1 2003.6,772.3 2004.7,765.5 2005.7,759 2006.7,753.6 2007.8,748.9 2008.8,744.5 2009.8,740.8 2010.9,737.7 2011.9,734.9 2013,732 2014,729.7 2015,728 2016.1,726 2017.1,724.5 2018.1,723.2 2019.2,722 2020.2,721 2021.2,720.1 2022.3,719.1 2023.3,718.4 2024.4,717.8 2025.4,717.1 2026.4,716.5 2027.5,716 2028.5,715.6 2029.5,715.6 2030.6,715.2 2031.6,714.6 2032.7,714.7 2033.7,714.3 2034.7,714.2 2035.8,714 2036.8,713.8 2037.8,713.6 2038.9,713.7 2039.9,713.5 2041,713.5 2042,713.4" fill="none" stroke="#66a322" stroke-width="2.2" stroke-linejoin="round" stroke-linecap="round" />
<polyline points="1624.5,721.7 1628.5,721.7 1636,721.7" fill="none" stroke="#4f8fe0" stroke-width="2" stroke-linejoin="round" stroke-linecap="round" />
<polyline points="1636,721.7 1636.8,765.6 1638,790.5" fill="none" stroke="#4f8fe0" stroke-width="1.1" stroke-linejoin="round" stroke-linecap="round" opacity=".55"/>
<polyline points="1638,790.4 1642.1,792.5 1646.2,793.9 1650.4,795.6 1654.5,796.6 1658.6,797.5 1662.8,798.6 1666.9,799.3 1671,799.9 1675.1,800.3 1679.2,800.4 1683.4,800.9 1687.5,801.3" fill="none" stroke="#4f8fe0" stroke-width="2.9" stroke-linejoin="round" stroke-linecap="round" />
<polyline points="1688,802.8 1688.2,797.5 1688.4,792 1688.6,786.1 1688.9,780.8 1689.1,775 1689.4,768.8 1689.8,762.7 1690.2,756.1 1690.7,749.8 1691.2,743.6 1692.3,735.1 1693.4,729.6 1694.5,725.7 1695.5,723.1 1696.6,721.5 1697.7,720.4 1698.8,719.8 1699.8,719 1700.9,718.9 1702,718.8 1703,718.5 1704.1,718.2 1705.2,718.1 1706.3,718.2 1707.3,718 1708.4,718.4 1709.5,718.3 1710.6,718.3 1711.7,718.2 1712.7,718.3 1713.8,718.1 1714.9,717.9 1716,718.1 1717,718.1 1718.1,718.3 1719.2,717.9 1720.2,718.3 1721.3,718.1 1722.4,717.9 1723.5,718.2 1724.5,718.3 1725.6,718.2 1726.7,718.2 1727.8,718.1 1728.8,718.1 1729.9,717.9 1731,718.1" fill="none" stroke="#4f8fe0" stroke-width="2.2" stroke-linejoin="round" stroke-linecap="round" />
<polyline points="1731,718.1 1731.6,721.7 1739,721.7" fill="none" stroke="#4f8fe0" stroke-width="2" stroke-linejoin="round" stroke-linecap="round" />
<polyline points="1739,721.7 1739.8,768.3 1741,794.7" fill="none" stroke="#4f8fe0" stroke-width="1.1" stroke-linejoin="round" stroke-linecap="round" opacity=".55"/>
<polyline points="1741,794.7 1745.2,796.7 1749.5,798.5 1753.8,799.6 1758,800.8 1762.2,802 1766.5,802.7 1770.8,803.4 1775,804 1779.2,804.5 1783.5,804.8 1787.8,805.5 1792,805.7" fill="none" stroke="#4f8fe0" stroke-width="2.9" stroke-linejoin="round" stroke-linecap="round" />
<polyline points="1792.5,807.5 1792.7,802.1 1792.9,796.6 1793.2,791.2 1793.4,785.4 1793.6,780.1 1794,773.8 1794.3,767.4 1794.7,761.4 1795.2,754.7 1795.8,748.5 1796.8,739.4 1797.9,733.4 1799,729.2 1800.1,726.4 1801.2,724.1 1802.3,723 1803.4,721.8 1804.5,721.3 1805.5,720.7 1806.6,720.6 1807.7,720.3 1808.8,720.1 1809.9,720.1 1811,720 1812.1,720 1813.2,720 1814.2,720 1815.3,720.1 1816.4,720.1 1817.5,720 1818.6,720 1819.7,720 1820.8,719.9 1821.9,720 1823,719.8 1824,720.1 1825.1,719.9 1826.2,720 1827.3,720 1828.4,719.7 1829.5,719.9 1830.6,719.9 1831.7,719.8 1832.7,720 1833.8,719.9 1834.9,720 1836,719.9" fill="none" stroke="#4f8fe0" stroke-width="2.2" stroke-linejoin="round" stroke-linecap="round" />
<polyline points="1836,719.9 1836.6,721.7 1843.4,721.7" fill="none" stroke="#4f8fe0" stroke-width="2" stroke-linejoin="round" stroke-linecap="round" />
<polyline points="1843.4,721.7 1844.2,776.4 1845.4,807.3" fill="none" stroke="#4f8fe0" stroke-width="1.1" stroke-linejoin="round" stroke-linecap="round" opacity=".55"/>
<polyline points="1845.4,807.6 1849.6,809.2 1853.8,811.4 1858.1,812.5 1862.3,813.9 1866.5,815.2 1870.7,815.8 1874.9,816.6 1879.1,817.1 1883.3,818.1 1887.6,818.6 1891.8,818.5 1896,819" fill="none" stroke="#4f8fe0" stroke-width="2.9" stroke-linejoin="round" stroke-linecap="round" />
<polyline points="1896.5,820.9 1896.7,814.7 1896.9,808.8 1897.2,803 1897.4,796.9 1897.6,791.2 1897.9,785.9 1898.2,780.7 1898.4,775.2 1898.7,770.2 1899.3,762.7 1899.8,755.4 1900.4,749.9 1901,744.8 1902.1,737.4 1903.2,732.2 1904.3,728.6 1905.4,726 1906.5,724.1 1907.6,722.8 1908.7,722 1909.8,721.5 1911,721 1912.1,720.8 1913.2,720.5 1914.3,720.4 1915.4,720 1916.5,720.1 1917.6,720.1 1918.8,719.8 1919.9,720.1 1921,720 1922.1,719.9 1923.2,719.8 1924.3,719.8 1925.4,719.7 1926.5,719.8 1927.7,719.8 1928.8,719.8 1929.9,719.9 1931,720 1932.1,720 1933.2,720 1934.3,720.1 1935.4,719.9 1936.5,719.7 1937.7,719.7 1938.8,719.8 1939.9,719.9 1941,719.9" fill="none" stroke="#4f8fe0" stroke-width="2.2" stroke-linejoin="round" stroke-linecap="round" />
<polyline points="1941,719.9 1941.6,721.7 1947.9,721.7" fill="none" stroke="#4f8fe0" stroke-width="2" stroke-linejoin="round" stroke-linecap="round" />
<polyline points="1947.9,721.7 1948.7,789.7 1949.9,828.3" fill="none" stroke="#4f8fe0" stroke-width="1.1" stroke-linejoin="round" stroke-linecap="round" opacity=".55"/>
<polyline points="1949.9,827.1 1953.9,833.3 1957.9,834.8 1961.9,835.7 1965.9,834.7 1969.9,834.4 1974,833.3 1978,832.6 1982,831.8 1986,831.3 1990,830.7 1994,829.8 2000,828.7" fill="none" stroke="#4f8fe0" stroke-width="2.1" stroke-linejoin="round" stroke-linecap="round" />
<polyline points="2000.5,829.9 2000.8,824 2001.2,818.5 2001.5,812.7 2002.1,805.7 2002.6,798.1 2003.1,791.9 2003.6,785.4 2004.1,779.9 2004.7,774.2 2005.7,764.4 2006.7,756 2007.8,748.4 2008.8,742.1 2009.8,736.5 2010.9,731.8 2011.9,727.4 2013,723.5 2014,720.3 2015,717.6 2016.1,715.4 2017.1,712.8 2018.1,711.1 2019.2,709.6 2020.2,708 2021.2,707 2022.3,705.9 2023.3,705 2024.4,703.9 2025.4,703.5 2026.4,702.6 2027.5,702.3 2028.5,701.8 2029.5,701.3 2030.6,701 2031.6,700.7 2032.7,700.5 2033.7,700 2034.7,700.1 2035.8,699.8 2036.8,699.5 2037.8,699.3 2038.9,699.4 2039.9,699.4 2041,699.2 2042,699" fill="none" stroke="#4f8fe0" stroke-width="2.2" stroke-linejoin="round" stroke-linecap="round" />
<polyline points="1624.5,723.9 1628.5,721.7 1636,721.7" fill="none" stroke="#f9a19e" stroke-width="1.6" stroke-linejoin="round" stroke-linecap="round" />
<polyline points="1636,721.7 1636.8,798.3 1638,841.7" fill="none" stroke="#f9a19e" stroke-width="1.7" stroke-linejoin="round" stroke-linecap="round" />
<polyline points="1638,841.6 1642.1,847.1 1646.2,851.5 1650.4,855.1 1654.5,857.5 1658.6,859.8 1662.8,861.5 1666.9,863.1 1671,864.4 1675.1,865.5 1679.2,866.2 1683.4,866.8 1687.5,867" fill="none" stroke="#f9a19e" stroke-width="1.7" stroke-linejoin="round" stroke-linecap="round" />
<polyline points="1688,868.9 1688.3,863.4 1688.5,858.2 1688.8,852.6 1689.1,847 1689.4,840.9 1689.8,834.9 1690.2,828.6 1690.5,823.6 1690.9,818.2 1691.2,813.2 1691.8,806.7 1692.3,800.4 1692.8,795 1693.4,789.4 1694.5,780.4 1695.5,772.4 1696.6,766.2 1697.7,760.6 1698.8,756 1699.8,752.4 1700.9,749 1702,746.3 1703,744.1 1704.1,742.4 1705.2,740.8 1706.3,739.5 1707.3,738.2 1708.4,737.4 1709.5,736.7 1710.6,736.1 1711.7,735.2 1712.7,734.8 1713.8,734.3 1714.9,734.2 1716,733.9 1717,733.7 1718.1,733.4 1719.2,733.4 1720.2,733 1721.3,733.2 1722.4,733.1 1723.5,732.9 1724.5,732.8 1725.6,732.9 1726.7,732.7 1727.8,732.8 1728.8,732.8 1729.9,732.4 1731,732.5" fill="none" stroke="#f9a19e" stroke-width="1.7" stroke-linejoin="round" stroke-linecap="round" />
<polyline points="1731,732.4 1731.6,721.7 1739,721.7" fill="none" stroke="#f9a19e" stroke-width="1.6" stroke-linejoin="round" stroke-linecap="round" />
<polyline points="1739,721.7 1739.8,804.7 1741,851.8" fill="none" stroke="#f9a19e" stroke-width="1.7" stroke-linejoin="round" stroke-linecap="round" />
<polyline points="1741,851.8 1745.2,856 1749.5,859.5 1753.8,862.1 1758,864.6 1762.2,866 1766.5,867.6 1770.8,868.9 1775,869.7 1779.2,870.7 1783.5,870.9 1787.8,871.4 1792,871.9" fill="none" stroke="#f9a19e" stroke-width="1.7" stroke-linejoin="round" stroke-linecap="round" />
<polyline points="1792.5,873.5 1792.8,867.6 1793,862.1 1793.3,856.1 1793.6,850.3 1794,843.9 1794.3,837.4 1794.7,830.9 1795,825.2 1795.4,820.1 1795.8,814.3 1796.3,807.4 1796.8,800.6 1797.4,794.9 1797.9,789.2 1799,779.3 1800.1,771.2 1801.2,764.5 1802.3,758.9 1803.4,753.8 1804.5,750.1 1805.5,746.5 1806.6,743.9 1807.7,741.2 1808.8,739.5 1809.9,737.8 1811,736.4 1812.1,735.1 1813.2,734.2 1814.2,733.3 1815.3,732.3 1816.4,731.9 1817.5,731.4 1818.6,731 1819.7,730.7 1820.8,730.4 1821.9,730.1 1823,729.8 1824,729.7 1825.1,729.5 1826.2,729.6 1827.3,729.2 1828.4,729.1 1829.5,729.2 1830.6,729 1831.7,729 1832.7,729.1 1833.8,729.2 1834.9,728.9 1836,729" fill="none" stroke="#f9a19e" stroke-width="1.7" stroke-linejoin="round" stroke-linecap="round" />
<polyline points="1836,728.8 1836.6,721.7 1843.4,721.7" fill="none" stroke="#f9a19e" stroke-width="1.6" stroke-linejoin="round" stroke-linecap="round" />
<polyline points="1843.4,721.7 1844.2,817.1 1845.4,871.1" fill="none" stroke="#f9a19e" stroke-width="1.7" stroke-linejoin="round" stroke-linecap="round" />
<polyline points="1845.4,870.9 1849.6,874.7 1853.8,877.6 1858.1,880.2 1862.3,882 1866.5,883.5 1870.7,884.7 1874.9,885.3 1879.1,886.6 1883.3,886.9 1887.6,887.5 1891.8,887.6 1896,888.2" fill="none" stroke="#f9a19e" stroke-width="1.7" stroke-linejoin="round" stroke-linecap="round" />
<polyline points="1896.5,889.4 1896.7,884 1896.9,878.5 1897.2,872.5 1897.4,867.1 1897.6,861.2 1897.9,855.5 1898.2,849.8 1898.4,843.7 1898.7,838 1899.1,831.3 1899.5,825.1 1899.8,818.5 1900.2,812.9 1900.6,807.6 1901,802.4 1901.5,795.9 1902.1,789.1 1902.6,783.7 1903.2,777.8 1904.3,768.8 1905.4,761.1 1906.5,755.1 1907.6,749.8 1908.7,745.6 1909.8,741.6 1911,739 1912.1,736.2 1913.2,734.2 1914.3,732.4 1915.4,731.1 1916.5,730.1 1917.6,729 1918.8,728.3 1919.9,727.7 1921,727.2 1922.1,726.6 1923.2,726.2 1924.3,725.9 1925.4,725.7 1926.5,725.4 1927.7,725.4 1928.8,725.3 1929.9,724.9 1931,725.1 1932.1,725 1933.2,724.7 1934.3,724.8 1935.4,724.5 1936.5,724.6 1937.7,724.6 1938.8,724.4 1939.9,724.6 1941,724.5" fill="none" stroke="#f9a19e" stroke-width="1.7" stroke-linejoin="round" stroke-linecap="round" />
<polyline points="1941,724.4 1941.6,721.7 1947.9,721.7" fill="none" stroke="#f9a19e" stroke-width="1.6" stroke-linejoin="round" stroke-linecap="round" />
<polyline points="1947.9,721.7 1948.7,832.6 1949.9,895.5" fill="none" stroke="#f9a19e" stroke-width="1.7" stroke-linejoin="round" stroke-linecap="round" />
<polyline points="1949.9,893.6 1951.9,898.9 1953.9,903.5 1957.9,905.6 1961.9,907.2 1965.9,905.8 1969.9,903.7 1974,902 1978,900.7 1982,898.6 1986,897.1 1990,895.5 1994,894.2 2000,892.3" fill="none" stroke="#f9a19e" stroke-width="1.7" stroke-linejoin="round" stroke-linecap="round" />
<polyline points="2000.5,893.9 2000.7,888.5 2000.9,883.3 2001.1,877.8 2001.3,872.4 2001.5,866.9 2001.8,861.1 2002.1,855.3 2002.3,849.4 2002.6,843.3 2002.8,838.1 2003.1,832.9 2003.4,828 2003.6,822.6 2004,816.9 2004.3,811 2004.7,805 2005,799.6 2005.3,794.6 2005.7,789.1 2006.2,782.6 2006.7,775.5 2007.2,769.8 2007.8,763.6 2008.3,758.6 2008.8,753.6 2009.8,744.3 2010.9,736.4 2011.9,729.7 2013,723.6 2014,718.4 2015,714.1 2016.1,710.3 2017.1,706.8 2018.1,703.8 2019.2,701 2020.2,698.9 2021.2,696.9 2022.3,695.1 2023.3,693.5 2024.4,692.3 2025.4,691 2026.4,690 2027.5,689.1 2028.5,688.4 2029.5,687.8 2030.6,687.1 2031.6,686.9 2032.7,686.3 2033.7,685.9 2034.7,685.7 2035.8,685.4 2036.8,684.8 2037.8,684.7 2038.9,684.7 2039.9,684.4 2041,684.5 2042,684.2" fill="none" stroke="#f9a19e" stroke-width="1.7" stroke-linejoin="round" stroke-linecap="round" />
<text x="1646.4" y="681.2" font-size="19" fill="#111" textLength="21" lengthAdjust="spacingAndGlyphs" stroke="#111" stroke-width="0.55">50</text>
<text x="1640.8" y="708.6" font-size="19" fill="#111" textLength="35.2" lengthAdjust="spacingAndGlyphs" stroke="#111" stroke-width="0.55">ppb</text>
<text x="1750.6" y="681.2" font-size="19" fill="#111" textLength="27.5" lengthAdjust="spacingAndGlyphs" stroke="#111" stroke-width="0.55">0.5</text>
<text x="1746.6" y="708.6" font-size="19" fill="#111" textLength="40" lengthAdjust="spacingAndGlyphs" stroke="#111" stroke-width="0.55">ppm</text>
<text x="1850" y="681.2" font-size="19" fill="#111" textLength="26.8" lengthAdjust="spacingAndGlyphs" stroke="#111" stroke-width="0.55">1.0</text>
<text x="1850" y="708.6" font-size="19" fill="#111" textLength="40" lengthAdjust="spacingAndGlyphs" stroke="#111" stroke-width="0.55">ppm</text>
<text x="1955" y="681.2" font-size="19" fill="#111" textLength="26.8" lengthAdjust="spacingAndGlyphs" stroke="#111" stroke-width="0.55">2.0</text>
<text x="1955" y="708.6" font-size="19" fill="#111" textLength="41" lengthAdjust="spacingAndGlyphs" stroke="#111" stroke-width="0.55">ppm</text>
<text x="1699" y="922.8" font-size="19.5" fill="#111" textLength="26.6" lengthAdjust="spacingAndGlyphs" stroke="#111" stroke-width="0.55">Air</text>
<text x="1804.4" y="922.8" font-size="19.5" fill="#111" textLength="26.6" lengthAdjust="spacingAndGlyphs" stroke="#111" stroke-width="0.55">Air</text>
<text x="1908.4" y="922.8" font-size="19.5" fill="#111" textLength="26.6" lengthAdjust="spacingAndGlyphs" stroke="#111" stroke-width="0.55">Air</text>
<text x="2006.6" y="922.8" font-size="19.5" fill="#111" textLength="26.6" lengthAdjust="spacingAndGlyphs" stroke="#111" stroke-width="0.55">Air</text>
<text x="1964.6" y="754.6" font-size="18.5" fill="#f7c752" textLength="25.6" lengthAdjust="spacingAndGlyphs" stroke="#f7c752" stroke-width="0.55">5%</text>
<text x="1960" y="773.6" font-size="18.5" fill="#c184f2" textLength="37" lengthAdjust="spacingAndGlyphs" stroke="#c184f2" stroke-width="0.55">20%</text>
<text x="1959" y="795.8" font-size="18.5" fill="#66a322" textLength="38" lengthAdjust="spacingAndGlyphs" stroke="#66a322" stroke-width="0.55">40%</text>
<text x="1960" y="827.2" font-size="18.5" fill="#4f8fe0" textLength="37" lengthAdjust="spacingAndGlyphs" stroke="#4f8fe0" stroke-width="0.55">60%</text>
<text x="1960" y="891.2" font-size="18.5" fill="#f9a19e" textLength="37" lengthAdjust="spacingAndGlyphs" stroke="#f9a19e" stroke-width="0.55">80%</text>
<rect x="1624.5" y="654.6" width="417.5" height="291" fill="none" stroke="#0a0a0a" stroke-width="3"/>
<path d="M1624.5 677.1h-12.5M1624.5 721.8h-12.5M1624.5 766.5h-12.5M1624.5 811.3h-12.5M1624.5 856h-12.5M1624.5 900.7h-12.5M1624.5 945.4h-12.5M1624.5 699.4h-7.5M1624.5 744.1h-7.5M1624.5 788.8h-7.5M1624.5 833.6h-7.5M1624.5 878.3h-7.5M1624.5 923h-7.5M1624.5 945.6v13M1711.3 945.6v13M1798.1 945.6v13M1884.9 945.6v13M1971.7 945.6v13M1667.9 945.6v7M1754.7 945.6v7M1841.5 945.6v7M1928.3 945.6v7M2015.1 945.6v7" stroke="#0a0a0a" stroke-width="2.8" fill="none"/>
<text x="1602.4" y="680.9" font-size="20.5" fill="#111" text-anchor="end" stroke="#111" stroke-width="0.55">10</text>
<text x="1602.4" y="725.6" font-size="20.5" fill="#111" text-anchor="end" stroke="#111" stroke-width="0.55">0</text>
<text x="1602.4" y="770.3" font-size="20.5" fill="#111" text-anchor="end" stroke="#111" stroke-width="0.55">-10</text>
<text x="1602.4" y="815.1" font-size="20.5" fill="#111" text-anchor="end" stroke="#111" stroke-width="0.55">-20</text>
<text x="1602.4" y="859.8" font-size="20.5" fill="#111" text-anchor="end" stroke="#111" stroke-width="0.55">-30</text>
<text x="1602.4" y="904.5" font-size="20.5" fill="#111" text-anchor="end" stroke="#111" stroke-width="0.55">-40</text>
<text x="1602.4" y="949.2" font-size="20.5" fill="#111" text-anchor="end" stroke="#111" stroke-width="0.55">-50</text>
<text x="1624.5" y="982.8" font-size="19.5" fill="#111" text-anchor="middle" stroke="#111" stroke-width="0.55">0</text>
<text x="1711.3" y="982.8" font-size="19.5" fill="#111" text-anchor="middle" stroke="#111" stroke-width="0.55">500</text>
<text x="1798.1" y="982.8" font-size="19.5" fill="#111" text-anchor="middle" stroke="#111" stroke-width="0.55">1000</text>
<text x="1884.9" y="982.8" font-size="19.5" fill="#111" text-anchor="middle" stroke="#111" stroke-width="0.55">1500</text>
<text x="1971.7" y="982.8" font-size="19.5" fill="#111" text-anchor="middle" stroke="#111" stroke-width="0.55">2000</text>
<text x="1832.2" y="1020" font-size="22.5" fill="#111" text-anchor="middle" textLength="84" lengthAdjust="spacingAndGlyphs" stroke="#111" stroke-width="0.55">Time (s)</text>
<text x="1550.8" y="790.2" font-size="22" fill="#111" text-anchor="middle" textLength="208" lengthAdjust="spacingAndGlyphs" transform="rotate(-90 1550.8 790.2)" stroke="#111" stroke-width="0.55">Response (<tspan font-style="italic">ΔI/I</tspan><tspan font-size="13" baseline-shift="-4">0</tspan> , %)</text>
<path d="M1033 650.6h3.4M1060 650.6h3.4M1559 650.6h3.4M1589 650.6h3.4" stroke="#555" stroke-width="1.4" fill="none"/>
</g>
<rect x="17.5" y="14.5" width="5" height="1016" fill="url(#edgeL)" opacity=".75"/>
<rect x="968.5" y="14.5" width="5" height="1016" fill="url(#edgeR)" opacity=".75"/>
<rect x="17.5" y="14.5" width="956" height="4" fill="url(#edgeT)" opacity=".7"/>
<rect x="17.5" y="1025.5" width="956" height="5" fill="url(#edgeB)" opacity=".8"/>
<rect x="1001.5" y="14.5" width="5" height="1016" fill="url(#edgeL)" opacity=".75"/>
<rect x="2046.5" y="14.5" width="5" height="1016" fill="url(#edgeR)" opacity=".75"/>
<rect x="1001.5" y="14.5" width="1050" height="4" fill="url(#edgeT)" opacity=".7"/>
<rect x="1001.5" y="1025.5" width="1050" height="5" fill="url(#edgeB)" opacity=".8"/>
<g id="border">
<path d="M33.3 1h14.3v13h-14.3zM59.6 1h14.3v13h-14.3zM85.8 1h14.3v13h-14.3zM112.1 1h14.3v13h-14.3zM138.4 1h14.3v13h-14.3zM164.6 1h14.3v13h-14.3zM190.9 1h14.3v13h-14.3zM217.2 1h14.3v13h-14.3zM243.5 1h14.3v13h-14.3zM269.7 1h14.3v13h-14.3zM296 1h14.3v13h-14.3zM322.3 1h14.3v13h-14.3zM348.5 1h14.3v13h-14.3zM374.8 1h14.3v13h-14.3zM401.1 1h14.3v13h-14.3zM427.4 1h14.3v13h-14.3zM453.6 1h14.3v13h-14.3zM479.9 1h14.3v13h-14.3zM506.2 1h14.3v13h-14.3zM532.4 1h14.3v13h-14.3zM558.7 1h14.3v13h-14.3zM585 1h14.3v13h-14.3zM611.2 1h14.3v13h-14.3zM637.5 1h14.3v13h-14.3zM663.8 1h14.3v13h-14.3zM690 1h14.3v13h-14.3zM716.3 1h14.3v13h-14.3zM742.6 1h14.3v13h-14.3zM768.9 1h14.3v13h-14.3zM795.1 1h14.3v13h-14.3zM821.4 1h14.3v13h-14.3zM847.7 1h14.3v13h-14.3zM873.9 1h14.3v13h-14.3zM900.2 1h14.3v13h-14.3zM926.5 1h14.3v13h-14.3zM952.7 1h14.3v13h-14.3zM1017.4 1h14.3v13h-14.3zM1043.7 1h14.3v13h-14.3zM1070 1h14.3v13h-14.3zM1096.4 1h14.3v13h-14.3zM1122.7 1h14.3v13h-14.3zM1149 1h14.3v13h-14.3zM1175.3 1h14.3v13h-14.3zM1201.6 1h14.3v13h-14.3zM1228 1h14.3v13h-14.3zM1254.3 1h14.3v13h-14.3zM1280.6 1h14.3v13h-14.3zM1306.9 1h14.3v13h-14.3zM1333.2 1h14.3v13h-14.3zM1359.6 1h14.3v13h-14.3zM1385.9 1h14.3v13h-14.3zM1412.2 1h14.3v13h-14.3zM1438.5 1h14.3v13h-14.3zM1464.8 1h14.3v13h-14.3zM1491.2 1h14.3v13h-14.3zM1517.5 1h14.3v13h-14.3zM1543.8 1h14.3v13h-14.3zM1570.1 1h14.3v13h-14.3zM1596.4 1h14.3v13h-14.3zM1622.8 1h14.3v13h-14.3zM1649.1 1h14.3v13h-14.3zM1675.4 1h14.3v13h-14.3zM1701.7 1h14.3v13h-14.3zM1728 1h14.3v13h-14.3zM1754.4 1h14.3v13h-14.3zM1780.7 1h14.3v13h-14.3zM1807 1h14.3v13h-14.3zM1833.3 1h14.3v13h-14.3zM1859.6 1h14.3v13h-14.3zM1886 1h14.3v13h-14.3zM1912.3 1h14.3v13h-14.3zM1938.6 1h14.3v13h-14.3zM1964.9 1h14.3v13h-14.3zM1991.2 1h14.3v13h-14.3zM2017.6 1h14.3v13h-14.3zM2043.9 1h14.3v13h-14.3zM25.1 1030.5h14.3v14h-14.3zM51.4 1030.5h14.3v14h-14.3zM77.7 1030.5h14.3v14h-14.3zM104 1030.5h14.3v14h-14.3zM130.3 1030.5h14.3v14h-14.3zM156.6 1030.5h14.3v14h-14.3zM183 1030.5h14.3v14h-14.3zM209.3 1030.5h14.3v14h-14.3zM235.6 1030.5h14.3v14h-14.3zM261.9 1030.5h14.3v14h-14.3zM288.2 1030.5h14.3v14h-14.3zM314.5 1030.5h14.3v14h-14.3zM340.8 1030.5h14.3v14h-14.3zM367.1 1030.5h14.3v14h-14.3zM393.4 1030.5h14.3v14h-14.3zM419.8 1030.5h14.3v14h-14.3zM446.1 1030.5h14.3v14h-14.3zM472.4 1030.5h14.3v14h-14.3zM498.7 1030.5h14.3v14h-14.3zM525 1030.5h14.3v14h-14.3zM551.3 1030.5h14.3v14h-14.3zM577.6 1030.5h14.3v14h-14.3zM603.9 1030.5h14.3v14h-14.3zM630.2 1030.5h14.3v14h-14.3zM656.5 1030.5h14.3v14h-14.3zM682.9 1030.5h14.3v14h-14.3zM709.2 1030.5h14.3v14h-14.3zM735.5 1030.5h14.3v14h-14.3zM761.8 1030.5h14.3v14h-14.3zM788.1 1030.5h14.3v14h-14.3zM814.4 1030.5h14.3v14h-14.3zM840.7 1030.5h14.3v14h-14.3zM867 1030.5h14.3v14h-14.3zM893.3 1030.5h14.3v14h-14.3zM919.6 1030.5h14.3v14h-14.3zM945.9 1030.5h14.3v14h-14.3zM1012 1030.5h14.3v14h-14.3zM1038.2 1030.5h14.3v14h-14.3zM1064.5 1030.5h14.3v14h-14.3zM1090.8 1030.5h14.3v14h-14.3zM1117 1030.5h14.3v14h-14.3zM1143.2 1030.5h14.3v14h-14.3zM1169.5 1030.5h14.3v14h-14.3zM1195.8 1030.5h14.3v14h-14.3zM1222 1030.5h14.3v14h-14.3zM1248.2 1030.5h14.3v14h-14.3zM1274.5 1030.5h14.3v14h-14.3zM1300.8 1030.5h14.3v14h-14.3zM1327 1030.5h14.3v14h-14.3zM1353.2 1030.5h14.3v14h-14.3zM1379.5 1030.5h14.3v14h-14.3zM1405.8 1030.5h14.3v14h-14.3zM1432 1030.5h14.3v14h-14.3zM1458.2 1030.5h14.3v14h-14.3zM1484.5 1030.5h14.3v14h-14.3zM1510.8 1030.5h14.3v14h-14.3zM1537 1030.5h14.3v14h-14.3zM1563.2 1030.5h14.3v14h-14.3zM1589.5 1030.5h14.3v14h-14.3zM1615.8 1030.5h14.3v14h-14.3zM1642 1030.5h14.3v14h-14.3zM1668.2 1030.5h14.3v14h-14.3zM1694.5 1030.5h14.3v14h-14.3zM1720.8 1030.5h14.3v14h-14.3zM1747 1030.5h14.3v14h-14.3zM1773.2 1030.5h14.3v14h-14.3zM1799.5 1030.5h14.3v14h-14.3zM1825.8 1030.5h14.3v14h-14.3zM1852 1030.5h14.3v14h-14.3zM1878.2 1030.5h14.3v14h-14.3zM1904.5 1030.5h14.3v14h-14.3zM1930.8 1030.5h14.3v14h-14.3zM1957 1030.5h14.3v14h-14.3zM1983.2 1030.5h14.3v14h-14.3zM2009.5 1030.5h14.3v14h-14.3zM2035.8 1030.5h14.3v14h-14.3zM2 1h19.5v13h-19.5zM979 1h27v13h-27zM971 1030.5h29.5v14h-29.5zM2 1024h14v20.5h-14zM2 22.7h14.3v14.6h-14.3zM2 49h14.3v14.6h-14.3zM2 75.4h14.3v14.6h-14.3zM2 101.7h14.3v14.6h-14.3zM2 128h14.3v14.6h-14.3zM2 154.3h14.3v14.6h-14.3zM2 180.7h14.3v14.6h-14.3zM2 207h14.3v14.6h-14.3zM2 233.3h14.3v14.6h-14.3zM2 259.7h14.3v14.6h-14.3zM2 286h14.3v14.6h-14.3zM2 312.3h14.3v14.6h-14.3zM2 338.7h14.3v14.6h-14.3zM2 365h14.3v14.6h-14.3zM2 391.3h14.3v14.6h-14.3zM2 417.6h14.3v14.6h-14.3zM2 444h14.3v14.6h-14.3zM2 470.3h14.3v14.6h-14.3zM2 496.6h14.3v14.6h-14.3zM2 523h14.3v14.6h-14.3zM2 549.3h14.3v14.6h-14.3zM2 575.6h14.3v14.6h-14.3zM2 602h14.3v14.6h-14.3zM2 628.3h14.3v14.6h-14.3zM2 654.6h14.3v14.6h-14.3zM2 681h14.3v14.6h-14.3zM2 707.3h14.3v14.6h-14.3zM2 733.6h14.3v14.6h-14.3zM2 759.9h14.3v14.6h-14.3zM2 786.3h14.3v14.6h-14.3zM2 812.6h14.3v14.6h-14.3zM2 838.9h14.3v14.6h-14.3zM2 865.3h14.3v14.6h-14.3zM2 891.6h14.3v14.6h-14.3zM2 917.9h14.3v14.6h-14.3zM2 944.3h14.3v14.6h-14.3zM2 970.6h14.3v14.6h-14.3zM2 996.9h14.3v14.6h-14.3zM2052.2 17.6h14.3v15h-14.3zM2052.2 44h14.3v15h-14.3zM2052.2 70.3h14.3v15h-14.3zM2052.2 96.7h14.3v15h-14.3zM2052.2 123h14.3v15h-14.3zM2052.2 149.4h14.3v15h-14.3zM2052.2 175.8h14.3v15h-14.3zM2052.2 202.1h14.3v15h-14.3zM2052.2 228.5h14.3v15h-14.3zM2052.2 254.8h14.3v15h-14.3zM2052.2 281.2h14.3v15h-14.3zM2052.2 307.6h14.3v15h-14.3zM2052.2 333.9h14.3v15h-14.3zM2052.2 360.3h14.3v15h-14.3zM2052.2 386.6h14.3v15h-14.3zM2052.2 413h14.3v15h-14.3zM2052.2 439.4h14.3v15h-14.3zM2052.2 465.7h14.3v15h-14.3zM2052.2 492.1h14.3v15h-14.3zM2052.2 518.4h14.3v15h-14.3zM2052.2 544.8h14.3v15h-14.3zM2052.2 571.2h14.3v15h-14.3zM2052.2 597.5h14.3v15h-14.3zM2052.2 623.9h14.3v15h-14.3zM2052.2 650.2h14.3v15h-14.3zM2052.2 676.6h14.3v15h-14.3zM2052.2 703h14.3v15h-14.3zM2052.2 729.3h14.3v15h-14.3zM2052.2 755.7h14.3v15h-14.3zM2052.2 782h14.3v15h-14.3zM2052.2 808.4h14.3v15h-14.3zM2052.2 834.8h14.3v15h-14.3zM2052.2 861.1h14.3v15h-14.3zM2052.2 887.5h14.3v15h-14.3zM2052.2 913.8h14.3v15h-14.3zM2052.2 940.2h14.3v15h-14.3zM2052.2 966.6h14.3v15h-14.3zM2052.2 992.9h14.3v15h-14.3zM2052.2 1019.3h14.3v15h-14.3z" fill="#000"/>
<path d="M34.3 9.2h12M60.6 9.2h12M86.8 9.2h12M113.1 9.2h12M139.4 9.2h12M165.6 9.2h12M191.9 9.2h12M218.2 9.2h12M244.5 9.2h12M270.7 9.2h12M297 9.2h12M323.3 9.2h12M349.5 9.2h12M375.8 9.2h12M402.1 9.2h12M428.4 9.2h12M454.6 9.2h12M480.9 9.2h12M507.2 9.2h12M533.4 9.2h12M559.7 9.2h12M586 9.2h12M612.2 9.2h12M638.5 9.2h12M664.8 9.2h12M691 9.2h12M717.3 9.2h12M743.6 9.2h12M769.9 9.2h12M796.1 9.2h12M822.4 9.2h12M848.7 9.2h12M874.9 9.2h12M901.2 9.2h12M927.5 9.2h12M953.7 9.2h12M1018.4 9.2h12M1044.7 9.2h12M1071 9.2h12M1097.4 9.2h12M1123.7 9.2h12M1150 9.2h12M1176.3 9.2h12M1202.6 9.2h12M1229 9.2h12M1255.3 9.2h12M1281.6 9.2h12M1307.9 9.2h12M1334.2 9.2h12M1360.6 9.2h12M1386.9 9.2h12M1413.2 9.2h12M1439.5 9.2h12M1465.8 9.2h12M1492.2 9.2h12M1518.5 9.2h12M1544.8 9.2h12M1571.1 9.2h12M1597.4 9.2h12M1623.8 9.2h12M1650.1 9.2h12M1676.4 9.2h12M1702.7 9.2h12M1729 9.2h12M1755.4 9.2h12M1781.7 9.2h12M1808 9.2h12M1834.3 9.2h12M1860.6 9.2h12M1887 9.2h12M1913.3 9.2h12M1939.6 9.2h12M1965.9 9.2h12M1992.2 9.2h12M2018.6 9.2h12M2044.9 9.2h12M9.3 23.7v12.5M9.3 50v12.5M9.3 76.4v12.5M9.3 102.7v12.5M9.3 129v12.5M9.3 155.3v12.5M9.3 181.7v12.5M9.3 208v12.5M9.3 234.3v12.5M9.3 260.7v12.5M9.3 287v12.5M9.3 313.3v12.5M9.3 339.7v12.5M9.3 366v12.5M9.3 392.3v12.5M9.3 418.6v12.5M9.3 445v12.5M9.3 471.3v12.5M9.3 497.6v12.5M9.3 524v12.5M9.3 550.3v12.5M9.3 576.6v12.5M9.3 603v12.5M9.3 629.3v12.5M9.3 655.6v12.5M9.3 682v12.5M9.3 708.3v12.5M9.3 734.6v12.5M9.3 760.9v12.5M9.3 787.3v12.5M9.3 813.6v12.5M9.3 839.9v12.5M9.3 866.3v12.5M9.3 892.6v12.5M9.3 918.9v12.5M9.3 945.3v12.5M9.3 971.6v12.5M9.3 997.9v12.5M2057.5 18.6v13M2057.5 45v13M2057.5 71.3v13M2057.5 97.7v13M2057.5 124v13M2057.5 150.4v13M2057.5 176.8v13M2057.5 203.1v13M2057.5 229.5v13M2057.5 255.8v13M2057.5 282.2v13M2057.5 308.6v13M2057.5 334.9v13M2057.5 361.3v13M2057.5 387.6v13M2057.5 414v13M2057.5 440.4v13M2057.5 466.7v13M2057.5 493.1v13M2057.5 519.4v13M2057.5 545.8v13M2057.5 572.2v13M2057.5 598.5v13M2057.5 624.9v13M2057.5 651.2v13M2057.5 677.6v13M2057.5 704v13M2057.5 730.3v13M2057.5 756.7v13M2057.5 783v13M2057.5 809.4v13M2057.5 835.8v13M2057.5 862.1v13M2057.5 888.5v13M2057.5 914.8v13M2057.5 941.2v13M2057.5 967.6v13M2057.5 993.9v13M2057.5 1020.3v13" stroke="#8e8e8e" stroke-width="2.2" fill="none"/>
<rect x="974.8" y="14" width="26.4" height="1017" fill="#000" />
<path d="M988.4 11.2h12.8v12h-12.8zM974.8 21.9h12.6v10.6h-12.6zM988.4 37.5h12.8v12h-12.8zM974.8 48.1h12.6v10.6h-12.6zM988.4 63.8h12.8v12h-12.8zM974.8 74.3h12.6v10.6h-12.6zM988.4 90h12.8v12h-12.8zM974.8 100.6h12.6v10.6h-12.6zM988.4 116.2h12.8v12h-12.8zM974.8 126.8h12.6v10.6h-12.6zM988.4 142.5h12.8v12h-12.8zM974.8 153.1h12.6v10.6h-12.6zM988.4 168.8h12.8v12h-12.8zM974.8 179.3h12.6v10.6h-12.6zM988.4 195h12.8v12h-12.8zM974.8 205.6h12.6v10.6h-12.6zM988.4 221.2h12.8v12h-12.8zM974.8 231.8h12.6v10.6h-12.6zM988.4 247.5h12.8v12h-12.8zM974.8 258.1h12.6v10.6h-12.6zM988.4 273.8h12.8v12h-12.8zM974.8 284.4h12.6v10.6h-12.6zM988.4 300h12.8v12h-12.8zM974.8 310.6h12.6v10.6h-12.6zM988.4 326.2h12.8v12h-12.8zM974.8 336.9h12.6v10.6h-12.6zM988.4 352.5h12.8v12h-12.8zM974.8 363.1h12.6v10.6h-12.6zM988.4 378.8h12.8v12h-12.8zM974.8 389.4h12.6v10.6h-12.6zM988.4 405h12.8v12h-12.8zM974.8 415.6h12.6v10.6h-12.6zM988.4 431.2h12.8v12h-12.8zM974.8 441.9h12.6v10.6h-12.6zM988.4 457.5h12.8v12h-12.8zM974.8 468.1h12.6v10.6h-12.6zM988.4 483.8h12.8v12h-12.8zM974.8 494.4h12.6v10.6h-12.6zM988.4 510h12.8v12h-12.8zM974.8 520.6h12.6v10.6h-12.6zM988.4 536.2h12.8v12h-12.8zM974.8 546.9h12.6v10.6h-12.6zM988.4 562.5h12.8v12h-12.8zM974.8 573.1h12.6v10.6h-12.6zM988.4 588.8h12.8v12h-12.8zM974.8 599.4h12.6v10.6h-12.6zM988.4 615h12.8v12h-12.8zM974.8 625.6h12.6v10.6h-12.6zM988.4 641.2h12.8v12h-12.8zM974.8 651.9h12.6v10.6h-12.6zM988.4 667.5h12.8v12h-12.8zM974.8 678.1h12.6v10.6h-12.6zM988.4 693.8h12.8v12h-12.8zM974.8 704.4h12.6v10.6h-12.6zM988.4 720h12.8v12h-12.8zM974.8 730.6h12.6v10.6h-12.6zM988.4 746.2h12.8v12h-12.8zM974.8 756.9h12.6v10.6h-12.6zM988.4 772.5h12.8v12h-12.8zM974.8 783.1h12.6v10.6h-12.6zM988.4 798.8h12.8v12h-12.8zM974.8 809.4h12.6v10.6h-12.6zM988.4 825h12.8v12h-12.8zM974.8 835.6h12.6v10.6h-12.6zM988.4 851.2h12.8v12h-12.8zM974.8 861.9h12.6v10.6h-12.6zM988.4 877.5h12.8v12h-12.8zM974.8 888.1h12.6v10.6h-12.6zM988.4 903.8h12.8v12h-12.8zM974.8 914.4h12.6v10.6h-12.6zM988.4 930h12.8v12h-12.8zM974.8 940.6h12.6v10.6h-12.6zM988.4 956.2h12.8v12h-12.8zM974.8 966.9h12.6v10.6h-12.6zM988.4 982.5h12.8v12h-12.8zM974.8 993.1h12.6v10.6h-12.6zM988.4 1008.8h12.8v12h-12.8zM974.8 1019.4h12.6v10.6h-12.6z" fill="#fff"/>
<path d="M979.6 15V1030M998.6 15V1030" stroke="#9a9a9a" stroke-width="1" fill="none" opacity=".55"/>
</g>
</svg>
</body>
</html>
